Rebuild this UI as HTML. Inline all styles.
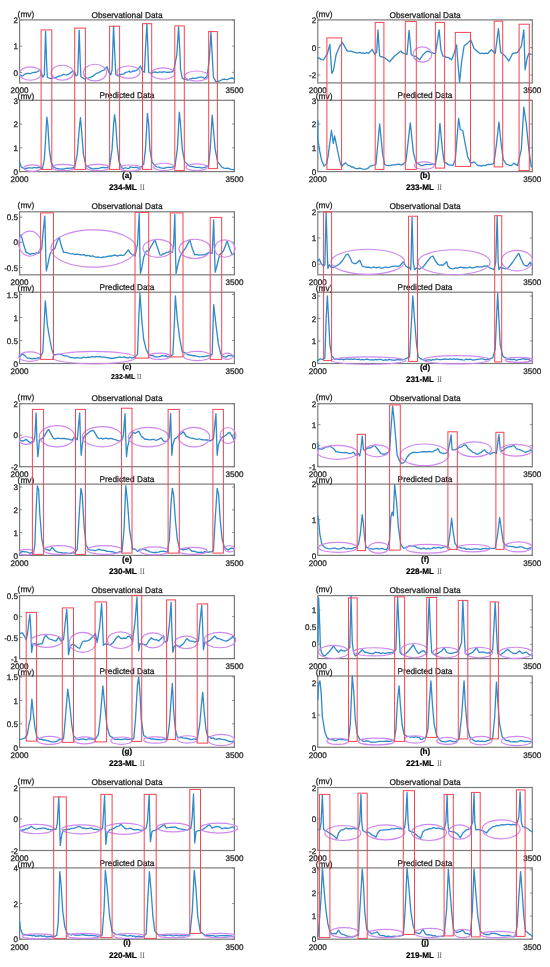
<!DOCTYPE html>
<html><head><meta charset="utf-8"><title>ECG figure</title>
<style>
html,body{margin:0;padding:0;background:#fff;}
body{width:550px;height:967px;overflow:hidden;}
svg{display:block;text-rendering:geometricPrecision;}
.t{font-family:'Liberation Sans', Arial, Helvetica, sans-serif;font-size:8.1px;fill:#1a1a1a;stroke:#1a1a1a;stroke-width:0.25px;}
.ti{font-size:8.3px;}
.b{font-family:'Liberation Sans', Arial, Helvetica, sans-serif;font-size:8.1px;font-weight:bold;fill:#000;stroke:#000;stroke-width:0.2px;}
.r{font-family:'Liberation Serif','Noto Serif CJK SC','Noto Sans CJK SC',serif;font-size:7.5px;font-weight:normal;fill:#4a4a4a;}
</style></head><body>
<svg width="550" height="967" viewBox="0 0 550 967">
<rect width="550" height="967" fill="#ffffff"/>
<rect x="19.6" y="19.9" width="214.8" height="63" fill="none" stroke="#7a7a7a" stroke-width="1.2"/>
<line x1="19.6" y1="19.9" x2="22.2" y2="19.9" stroke="#7a7a7a" stroke-width="0.9"/>
<line x1="234.4" y1="19.9" x2="231.9" y2="19.9" stroke="#7a7a7a" stroke-width="0.8"/>
<text x="18.1" y="23.1" text-anchor="end" class="t">2</text>
<line x1="19.6" y1="46.15" x2="22.2" y2="46.15" stroke="#7a7a7a" stroke-width="0.9"/>
<line x1="234.4" y1="46.15" x2="231.9" y2="46.15" stroke="#7a7a7a" stroke-width="0.8"/>
<text x="18.1" y="49.35" text-anchor="end" class="t">1</text>
<line x1="19.6" y1="72.4" x2="22.2" y2="72.4" stroke="#7a7a7a" stroke-width="0.9"/>
<line x1="234.4" y1="72.4" x2="231.9" y2="72.4" stroke="#7a7a7a" stroke-width="0.8"/>
<text x="18.1" y="75.6" text-anchor="end" class="t">0</text>
<text x="17.6" y="16.5" class="t" style="font-size:8.4px">(mv)</text>
<text x="127" y="17.5" text-anchor="middle" class="t ti">Observational Data</text>
<text x="19.6" y="93.3" text-anchor="middle" class="t">2000</text>
<text x="234.4" y="93.3" text-anchor="middle" class="t">3500</text>
<rect x="19.6" y="100.3" width="214.8" height="71.3" fill="none" stroke="#7a7a7a" stroke-width="1.2"/>
<line x1="19.6" y1="100.3" x2="22.2" y2="100.3" stroke="#7a7a7a" stroke-width="0.9"/>
<line x1="234.4" y1="100.3" x2="231.9" y2="100.3" stroke="#7a7a7a" stroke-width="0.8"/>
<text x="18.1" y="103.5" text-anchor="end" class="t">3</text>
<line x1="19.6" y1="124.07" x2="22.2" y2="124.07" stroke="#7a7a7a" stroke-width="0.9"/>
<line x1="234.4" y1="124.07" x2="231.9" y2="124.07" stroke="#7a7a7a" stroke-width="0.8"/>
<text x="18.1" y="127.27" text-anchor="end" class="t">2</text>
<line x1="19.6" y1="147.83" x2="22.2" y2="147.83" stroke="#7a7a7a" stroke-width="0.9"/>
<line x1="234.4" y1="147.83" x2="231.9" y2="147.83" stroke="#7a7a7a" stroke-width="0.8"/>
<text x="18.1" y="151.03" text-anchor="end" class="t">1</text>
<line x1="19.6" y1="171.6" x2="22.2" y2="171.6" stroke="#7a7a7a" stroke-width="0.9"/>
<line x1="234.4" y1="171.6" x2="231.9" y2="171.6" stroke="#7a7a7a" stroke-width="0.8"/>
<text x="18.1" y="174.8" text-anchor="end" class="t">0</text>
<text x="17.6" y="99.3" class="t" style="font-size:8.4px">(mv)</text>
<text x="127" y="97.9" text-anchor="middle" class="t ti">Predicted Data</text>
<text x="19.6" y="182" text-anchor="middle" class="t">2000</text>
<text x="234.4" y="182" text-anchor="middle" class="t">3500</text>
<polyline points="19.6,74.72 22.42,75.97 24.91,74.22 26.77,73.42 28.64,73.47 30.51,73.53 32.38,72.73 34.25,72.3 36.11,72.23 38.61,70.98 39.85,69.74 41.1,72.23 42.84,77.21 44.33,74.72 45.58,31.13 46.58,62.27 47.32,77.21 49.81,78.46 51.68,78.56 53.55,77.71 55.62,77.54 57.7,76.65 59.78,75.97 61.44,75.63 63.1,74.49 64.76,74.72 66.42,74.85 68.08,74.33 69.74,73.47 72.73,70.98 74.72,72.23 75.97,75.97 77.71,74.72 79.2,30.39 80.2,62.27 80.95,76.71 82.81,77.77 84.68,79.2 86.34,78.1 88,78.12 89.66,77.71 91.32,76.95 92.98,76.17 94.65,74.72 96.31,73.53 97.97,72.79 99.63,72.23 101.29,71.05 102.95,70.45 104.61,69.74 107.1,66.75 108.84,72.23 110.83,74.72 112.08,69.74 113.57,26.15 114.57,49.81 115.82,74.72 118.31,75.97 120.17,74.66 122.04,74.22 123.7,74.07 125.36,72.52 127.02,72.23 129.51,70.98 130,72.23 131.66,71.88 133.32,70.79 134.98,70.98 136.85,70.09 138.72,68.49 140.46,66 142.45,70.98 144.45,72.23 145.44,49.81 146.94,23.66 147.93,49.81 148.68,72.23 151.17,73.47 153.66,72.23 155.53,71.93 157.4,72.73 159.27,71.87 161.13,72.23 163,72.02 164.87,71.73 166.53,72.47 168.19,72.23 169.85,72.23 171.72,71.95 173.59,70.98 175.33,62.27 176.82,54.79 178.57,26.9 179.81,49.81 180.56,69.74 182.3,78.46 184.17,79.01 186.04,79.7 187.91,80.12 189.78,79.2 191.44,78.59 193.1,78.03 194.76,78.46 196.42,78.16 198.08,77.63 199.74,77.21 201.4,77.2 203.06,77.45 204.72,78.46 207.21,75.97 209.2,59.78 210.95,32.38 212.19,54.79 213.44,77.21 215.93,81.69 217.8,81.45 219.66,80.95 221.32,80.01 222.98,79.28 224.65,79.2 226.31,79.62 227.97,79.37 229.63,78.46 231.29,78.22 232.95,78.27 234.4,79.2" fill="none" stroke="#3089c9" stroke-width="1.3" stroke-linejoin="round" stroke-linecap="round"/>
<polyline points="19.6,161.89 21.17,166.87 23.04,167.92 24.91,168.87 26.77,168.24 28.64,167.92 30.51,167.93 32.38,168.12 34.25,167.47 36.11,167.84 37.98,167.51 39.85,167.37 42.34,168.87 44.33,159.4 45.58,139.48 46.82,117.06 47.82,124.53 49.32,149.44 51.06,161.89 53.55,166.87 55.62,168.06 57.7,168.75 59.78,168.87 61.55,169.18 63.33,169.02 65.11,168.76 66.89,168.04 68.67,168.44 70.45,168.21 72.23,168.12 74.72,166.87 77.21,154.42 79.2,129.51 80.45,117.56 81.69,132 83.44,154.42 85.93,165.63 88,166.7 90.08,167.85 92.15,168.87 94.02,168.79 95.89,168.47 97.76,168.57 99.63,168.12 101.49,167.62 103.36,167.43 105.23,167.97 107.1,167.37 109.59,166.38 112.08,149.44 113.57,124.53 114.57,114.57 115.82,124.53 117.06,144.46 119.05,161.89 122.04,168.12 123.91,168.29 125.78,167.75 127.65,168.49 129.51,168.12 130,166.87 131.66,167.07 133.32,167.66 134.98,167.37 136.64,167.35 138.3,168.22 139.96,168.12 143.7,164.38 145.44,149.44 147.43,113.33 148.68,124.53 149.93,149.44 151.92,161.89 154.91,165.63 156.77,166.82 158.64,167.09 160.51,167.87 162.38,168.12 164.25,168.37 166.11,167.58 167.98,167.3 169.85,167.37 171.51,167.43 173.17,166.89 174.83,166.87 177.32,149.44 179.32,112.08 180.56,124.53 182.3,149.44 184.79,161.89 189.78,166.38 191.64,166.4 193.51,166.78 195.38,167.23 197.25,167.37 199.12,167.46 200.98,167.86 202.85,167.92 204.72,167.37 206.59,166.69 208.46,165.63 210.2,149.44 212.19,115.07 213.44,129.51 215.18,149.44 217.67,161.89 222.15,167.37 224.02,168.08 225.89,168.42 227.76,168.11 229.63,168.87 231.29,169.46 232.95,169.64 234.4,169.36" fill="none" stroke="#3089c9" stroke-width="1.3" stroke-linejoin="round" stroke-linecap="round"/>
<ellipse cx="30.3" cy="73.5" rx="10.9" ry="6.7" fill="none" stroke="#cf88ee" stroke-width="1.15"/>
<ellipse cx="62.3" cy="72.7" rx="11.2" ry="7.5" fill="none" stroke="#cf88ee" stroke-width="1.15"/>
<ellipse cx="95" cy="72.6" rx="11.6" ry="8.3" fill="none" stroke="#cf88ee" stroke-width="1.15"/>
<ellipse cx="128.5" cy="72.2" rx="11.5" ry="6.2" fill="none" stroke="#cf88ee" stroke-width="1.15"/>
<ellipse cx="163" cy="73.5" rx="11.8" ry="5.7" fill="none" stroke="#cf88ee" stroke-width="1.15"/>
<ellipse cx="196.6" cy="76" rx="11.8" ry="5" fill="none" stroke="#cf88ee" stroke-width="1.15"/>
<ellipse cx="32.4" cy="168.1" rx="8.7" ry="3.2" fill="none" stroke="#cf88ee" stroke-width="1.15"/>
<ellipse cx="63.5" cy="167.5" rx="11.2" ry="3.1" fill="none" stroke="#cf88ee" stroke-width="1.15"/>
<ellipse cx="97.8" cy="167.5" rx="11.8" ry="3.1" fill="none" stroke="#cf88ee" stroke-width="1.15"/>
<ellipse cx="130.4" cy="168" rx="10.8" ry="3" fill="none" stroke="#cf88ee" stroke-width="1.15"/>
<ellipse cx="164" cy="166.9" rx="10.3" ry="3.7" fill="none" stroke="#cf88ee" stroke-width="1.15"/>
<ellipse cx="196.6" cy="167.2" rx="10.6" ry="3.4" fill="none" stroke="#cf88ee" stroke-width="1.15"/>
<rect x="41.1" y="29.9" width="10.7" height="139.5" fill="none" stroke="#f8444f" stroke-width="1"/>
<rect x="74.7" y="28.1" width="10.7" height="141.3" fill="none" stroke="#f8444f" stroke-width="1"/>
<rect x="109.6" y="26.2" width="10" height="143.2" fill="none" stroke="#f8444f" stroke-width="1"/>
<rect x="142.5" y="23.7" width="9.2" height="145.7" fill="none" stroke="#f8444f" stroke-width="1"/>
<rect x="174.8" y="25.9" width="9.5" height="144.7" fill="none" stroke="#f8444f" stroke-width="1"/>
<rect x="208.7" y="31.6" width="8.7" height="137" fill="none" stroke="#f8444f" stroke-width="1"/>
<text x="127" y="177.8" text-anchor="middle" class="b">(a)</text>
<text x="108.9" y="189.9" class="b">234-ML</text>
<text x="138.5" y="189.9" class="r">Ⅱ</text>
<rect x="317.8" y="19.9" width="214.5" height="63" fill="none" stroke="#7a7a7a" stroke-width="1.2"/>
<line x1="317.8" y1="19.9" x2="320.4" y2="19.9" stroke="#7a7a7a" stroke-width="0.9"/>
<line x1="532.3" y1="19.9" x2="529.8" y2="19.9" stroke="#7a7a7a" stroke-width="0.8"/>
<text x="316.3" y="23.1" text-anchor="end" class="t">2</text>
<line x1="317.8" y1="47.47" x2="320.4" y2="47.47" stroke="#7a7a7a" stroke-width="0.9"/>
<line x1="532.3" y1="47.47" x2="529.8" y2="47.47" stroke="#7a7a7a" stroke-width="0.8"/>
<text x="316.3" y="50.67" text-anchor="end" class="t">0</text>
<line x1="317.8" y1="75.04" x2="320.4" y2="75.04" stroke="#7a7a7a" stroke-width="0.9"/>
<line x1="532.3" y1="75.04" x2="529.8" y2="75.04" stroke="#7a7a7a" stroke-width="0.8"/>
<text x="316.3" y="78.24" text-anchor="end" class="t">-2</text>
<text x="315.8" y="16.5" class="t" style="font-size:8.4px">(mv)</text>
<text x="425.05" y="17.5" text-anchor="middle" class="t ti">Observational Data</text>
<text x="317.8" y="93.3" text-anchor="middle" class="t">2000</text>
<text x="532.3" y="93.3" text-anchor="middle" class="t">3500</text>
<rect x="317.8" y="100.3" width="214.5" height="71.3" fill="none" stroke="#7a7a7a" stroke-width="1.2"/>
<line x1="317.8" y1="100.3" x2="320.4" y2="100.3" stroke="#7a7a7a" stroke-width="0.9"/>
<line x1="532.3" y1="100.3" x2="529.8" y2="100.3" stroke="#7a7a7a" stroke-width="0.8"/>
<text x="316.3" y="103.5" text-anchor="end" class="t">3</text>
<line x1="317.8" y1="124.07" x2="320.4" y2="124.07" stroke="#7a7a7a" stroke-width="0.9"/>
<line x1="532.3" y1="124.07" x2="529.8" y2="124.07" stroke="#7a7a7a" stroke-width="0.8"/>
<text x="316.3" y="127.27" text-anchor="end" class="t">2</text>
<line x1="317.8" y1="147.83" x2="320.4" y2="147.83" stroke="#7a7a7a" stroke-width="0.9"/>
<line x1="532.3" y1="147.83" x2="529.8" y2="147.83" stroke="#7a7a7a" stroke-width="0.8"/>
<text x="316.3" y="151.03" text-anchor="end" class="t">1</text>
<line x1="317.8" y1="171.6" x2="320.4" y2="171.6" stroke="#7a7a7a" stroke-width="0.9"/>
<line x1="532.3" y1="171.6" x2="529.8" y2="171.6" stroke="#7a7a7a" stroke-width="0.8"/>
<text x="316.3" y="174.8" text-anchor="end" class="t">0</text>
<text x="315.8" y="99.3" class="t" style="font-size:8.4px">(mv)</text>
<text x="425.05" y="97.9" text-anchor="middle" class="t ti">Predicted Data</text>
<text x="317.8" y="182" text-anchor="middle" class="t">2000</text>
<text x="532.3" y="182" text-anchor="middle" class="t">3500</text>
<polyline points="317.8,57.78 319.47,58.25 321.55,59.58 323.62,59.78 327.36,53.55 329.85,44.33 331.84,73.47 333.59,69.74 336.08,54.79 339.81,46.08 342.3,42.34 347.29,51.06 349.15,51.16 351.02,51.06 352.89,51.96 354.76,52.3 356.42,52.83 358.08,52.97 359.74,52.32 361.4,53.13 363.06,52.92 364.72,53.55 366.38,52.48 368.04,53.39 369.7,52.3 372.19,49.32 374.68,54.3 376.67,52.3 377.92,29.89 379.66,56.04 381.32,56.91 382.98,57.01 384.65,57.78 389.63,61.77 394.61,56.04 400.83,51.06 402.45,52.69 404.07,53.55 407.06,54.3 409.05,30.39 411.3,54.79 412.91,55.82 414.53,56.04 416.19,56.6 417.85,58.37 419.51,59.78 420.47,58.53 422.96,54.79 424.62,53.28 426.28,51.67 427.94,51.06 429.81,52.02 431.68,52.3 433.55,53.44 435.42,53.55 439.15,29.89 440.9,49.81 442.89,56.04 444.55,56.43 446.21,57.33 447.87,57.29 449.74,58.59 451.61,59.78 454.1,53.55 456.59,44.83 457.83,62.27 459.58,82.19 461.57,62.27 464.06,46.08 465.68,44.7 467.3,43.59 470.78,39.85 474.02,48.57 476.1,50.33 478.17,52.33 480.25,53.55 482.12,53.23 483.98,53.57 485.85,53.02 487.72,53.55 491.46,49.81 495.19,53.55 498.43,28.64 500.67,52.3 505.15,56.04 508.89,61.02 512.63,53.55 514.29,53.19 515.95,52.99 517.61,52.3 521.34,46.08 523.83,29.89 525.08,69.74 527.07,58.53 528.82,53.55 531.31,54.3" fill="none" stroke="#3089c9" stroke-width="1.3" stroke-linejoin="round" stroke-linecap="round"/>
<polyline points="317.8,120.55 317.9,139.48 319.89,151.93 321.63,160.4 324.12,166.13 326.61,163.64 328.11,156.16 330.6,136.49 331.49,130.51 333.34,143.46 334.58,135.99 337.32,149.44 339.81,161.15 341.56,166.87 343.05,164.63 345.54,162.89 348.03,165.38 349.71,165.53 351.39,167 353.08,166.96 354.76,168.12 356.42,168.62 358.08,168.51 359.74,168.21 361.4,168.7 363.06,169.08 364.72,169.36 366.59,168.92 368.46,167.89 370.32,166 372.19,165.63 374.06,164.99 375.93,164.38 379.66,123.79 382.65,154.42 384.65,164.38 386.31,165.28 387.97,165.52 389.63,165.63 391.49,165.12 393.36,164.8 395.23,164.84 397.1,164.38 398.76,164.07 400.42,164.93 402.08,164.88 405.82,161.89 410.3,122.79 413.29,151.93 415.78,161.89 417.65,163.72 419.51,164.38 420.47,165.63 422.34,165.53 424.21,164.88 426.08,164.33 427.94,164.38 429.81,164.67 431.68,164.29 433.55,163.92 435.42,164.38 437.91,149.44 439.9,123.29 442.39,149.44 444.13,161.89 446,162.88 447.87,164.38 449.53,165.18 451.19,165.07 452.85,165.63 455.34,159.4 457.33,134.5 458.58,118.31 460.32,129.51 462.81,130.76 465.3,144.46 467.79,156.91 470.78,163.14 472.4,162.75 474.02,161.89 477.76,165.63 479.63,165.31 481.49,166.18 483.36,165.27 485.23,165.63 486.89,164.68 488.55,164.48 490.21,164.38 492.08,164.22 493.95,163.14 496.44,144.46 498.93,122.04 500.67,139.48 503.16,159.4 506.4,164.38 508.06,164.65 509.72,165.34 511.38,165.63 513.87,163.14 515.74,164.37 517.61,165.63 521.34,149.44 523.83,107.1 526.33,124.53 528.82,149.44 531.31,166.87" fill="none" stroke="#3089c9" stroke-width="1.3" stroke-linejoin="round" stroke-linecap="round"/>
<ellipse cx="422.4" cy="54.5" rx="9.3" ry="7.7" fill="none" stroke="#cf88ee" stroke-width="1.15"/>
<ellipse cx="424.2" cy="165.6" rx="10" ry="3.7" fill="none" stroke="#cf88ee" stroke-width="1.15"/>
<rect x="326.9" y="37.9" width="14.7" height="131.5" fill="none" stroke="#f8444f" stroke-width="1"/>
<rect x="375.2" y="22.4" width="8.7" height="147" fill="none" stroke="#f8444f" stroke-width="1"/>
<rect x="405.3" y="21.4" width="11" height="148" fill="none" stroke="#f8444f" stroke-width="1"/>
<rect x="435.4" y="22.4" width="9.2" height="145.7" fill="none" stroke="#f8444f" stroke-width="1"/>
<rect x="455.3" y="32.4" width="15.2" height="134" fill="none" stroke="#f8444f" stroke-width="1"/>
<rect x="494.2" y="21.2" width="8.5" height="145.7" fill="none" stroke="#f8444f" stroke-width="1"/>
<rect x="519.1" y="24.2" width="10.2" height="146.4" fill="none" stroke="#f8444f" stroke-width="1"/>
<text x="425.05" y="177.8" text-anchor="middle" class="b">(b)</text>
<text x="406.1" y="189.9" class="b">233-ML</text>
<text x="435.7" y="189.9" class="r">Ⅱ</text>
<rect x="19.6" y="211.8" width="214.8" height="63" fill="none" stroke="#7a7a7a" stroke-width="1.2"/>
<line x1="19.6" y1="217.13" x2="22.2" y2="217.13" stroke="#7a7a7a" stroke-width="0.9"/>
<line x1="234.4" y1="217.13" x2="231.9" y2="217.13" stroke="#7a7a7a" stroke-width="0.8"/>
<text x="18.1" y="220.33" text-anchor="end" class="t">0.5</text>
<line x1="19.6" y1="242.29" x2="22.2" y2="242.29" stroke="#7a7a7a" stroke-width="0.9"/>
<line x1="234.4" y1="242.29" x2="231.9" y2="242.29" stroke="#7a7a7a" stroke-width="0.8"/>
<text x="18.1" y="245.49" text-anchor="end" class="t">0</text>
<line x1="19.6" y1="267.45" x2="22.2" y2="267.45" stroke="#7a7a7a" stroke-width="0.9"/>
<line x1="234.4" y1="267.45" x2="231.9" y2="267.45" stroke="#7a7a7a" stroke-width="0.8"/>
<text x="18.1" y="270.65" text-anchor="end" class="t">-0.5</text>
<text x="17.6" y="208.4" class="t" style="font-size:8.4px">(mv)</text>
<text x="127" y="209.4" text-anchor="middle" class="t ti">Observational Data</text>
<text x="19.6" y="285.2" text-anchor="middle" class="t">2000</text>
<text x="234.4" y="285.2" text-anchor="middle" class="t">3500</text>
<rect x="19.6" y="292.2" width="214.8" height="71.3" fill="none" stroke="#7a7a7a" stroke-width="1.2"/>
<line x1="19.6" y1="294.5" x2="22.2" y2="294.5" stroke="#7a7a7a" stroke-width="0.9"/>
<line x1="234.4" y1="294.5" x2="231.9" y2="294.5" stroke="#7a7a7a" stroke-width="0.8"/>
<text x="18.1" y="297.7" text-anchor="end" class="t">1.5</text>
<line x1="19.6" y1="317.5" x2="22.2" y2="317.5" stroke="#7a7a7a" stroke-width="0.9"/>
<line x1="234.4" y1="317.5" x2="231.9" y2="317.5" stroke="#7a7a7a" stroke-width="0.8"/>
<text x="18.1" y="320.7" text-anchor="end" class="t">1</text>
<line x1="19.6" y1="340.5" x2="22.2" y2="340.5" stroke="#7a7a7a" stroke-width="0.9"/>
<line x1="234.4" y1="340.5" x2="231.9" y2="340.5" stroke="#7a7a7a" stroke-width="0.8"/>
<text x="18.1" y="343.7" text-anchor="end" class="t">0.5</text>
<line x1="19.6" y1="363.5" x2="22.2" y2="363.5" stroke="#7a7a7a" stroke-width="0.9"/>
<line x1="234.4" y1="363.5" x2="231.9" y2="363.5" stroke="#7a7a7a" stroke-width="0.8"/>
<text x="18.1" y="366.7" text-anchor="end" class="t">0</text>
<text x="17.6" y="291.2" class="t" style="font-size:8.4px">(mv)</text>
<text x="127" y="289.8" text-anchor="middle" class="t ti">Predicted Data</text>
<text x="19.6" y="373.9" text-anchor="middle" class="t">2000</text>
<text x="234.4" y="373.9" text-anchor="middle" class="t">3500</text>
<polyline points="19.6,236.1 21.17,234.85 23.66,244.81 26.15,252.29 28.02,253.15 29.89,254.28 31.55,253.61 33.21,253.33 34.87,253.53 36.53,252.76 38.19,253.06 39.85,252.29 41.84,248.55 42.84,234.85 44.83,216.17 45.83,257.27 46.33,270.97 47.82,264.74 49.81,254.78 52.3,249.79 54.79,248.55 57.29,241.08 59.28,237.34 61.02,244.81 63.51,252.29 65.59,252.35 67.66,252.95 69.74,253.53 71.52,253.97 73.3,253.94 75.08,254.68 76.85,254.23 78.63,254.31 80.41,254.76 82.19,254.78 83.94,254.63 85.68,255.84 87.42,255.35 89.17,255.62 90.91,256.28 92.65,255.78 94.4,256.74 96.14,257.26 97.88,256.79 99.63,257.27 101.41,257.71 103.18,256.95 104.96,257.12 106.74,256.51 108.52,256.24 110.3,255.88 112.08,256.02 113.86,255.15 115.64,255.25 117.42,256.17 119.2,255.36 120.97,255.08 122.75,255.51 124.53,254.78 128.27,249.79 130.76,253.53 132.87,254.92 134.98,256.02 137.47,244.81 139.22,213.68 139.96,257.27 140.46,273.46 141.96,267.23 143.7,257.27 146.19,251.04 148.68,251.04 151.17,246.06 154.91,239.83 157.4,247.3 159.89,254.78 161.55,255.03 163.21,253.75 164.87,253.53 166.53,252.3 168.19,252.46 169.85,251.04 172.34,252.29 173.59,244.81 174.83,214.43 175.58,257.27 176.08,273.46 177.82,264.74 179.81,257.27 182.3,252.29 186.04,247.3 189.78,239.83 192.27,248.55 194.76,254.78 196.63,254.3 198.49,255.18 200.36,254.91 202.23,254.78 204.1,254.83 205.97,254.15 207.83,253.13 209.7,252.29 212.19,253.53 213.69,219.91 214.68,257.27 215.18,272.21 217.17,264.74 219.66,254.78 223.4,251.04 227.14,241.08 229.63,248.55 232.12,254.78 234.4,253.53" fill="none" stroke="#3089c9" stroke-width="1.3" stroke-linejoin="round" stroke-linecap="round"/>
<polyline points="19.6,356.89 22.42,353.9 24.91,355.65 27.4,358.14 29.06,358.2 30.72,358.51 32.38,358.89 34.25,358.43 36.11,358.77 37.98,357.74 39.85,358.14 42.84,351.91 44.33,319.53 45.33,300.85 47.32,324.51 49.81,339.46 51.81,349.42 53.55,354.4 55.62,354.64 57.7,354.22 59.78,354.4 61.44,354.5 63.1,355.32 64.76,355.97 66.42,355.92 68.08,356.5 69.74,357.24 71.4,357.54 73.06,357.71 74.72,358.14 76.38,357.7 78.04,357.9 79.7,357.91 81.36,358.1 83.02,357.33 84.68,357.29 86.34,357.61 88,357.13 89.66,357.44 91.32,356.83 92.98,356.49 94.65,357.12 96.31,356.38 97.97,356.87 99.63,356.39 101.41,357.21 103.18,357.06 104.96,357.2 106.74,357.69 108.52,357.71 110.3,358.31 112.08,358.14 113.86,358.45 115.64,357.7 117.42,357.69 119.2,356.94 120.97,357.29 122.75,357.15 124.53,356.89 126.4,357.73 128.27,357.83 130.14,357.24 132,358.14 134.98,356.89 137.47,354.4 138.72,319.53 139.96,293.38 141.96,322.02 143.7,339.46 146.19,349.42 148.68,354.4 150.76,355.55 152.83,355.68 154.91,356.89 156.77,356.86 158.64,356.87 160.51,356.27 162.38,355.65 164.25,356.05 166.11,355.75 167.98,357.01 169.85,356.89 172.84,354.4 174.33,324.51 175.33,295.87 177.32,319.53 179.81,339.46 182.3,351.91 183.96,352.26 185.62,353.09 187.29,354.4 189.06,355.19 190.84,355.24 192.62,355.73 194.4,355.53 196.18,356.19 197.96,356.4 199.74,356.89 201.4,356.67 203.06,356.41 204.72,356.7 206.38,356 208.04,355.86 209.7,355.65 212.19,354.4 213.69,304.59 215.93,324.51 218.42,344.44 220.91,354.4 222.78,356.18 224.65,356.89 226.31,357.03 227.97,355.72 229.63,355.65 231.29,355.7 232.95,355.59 234.4,356.39" fill="none" stroke="#3089c9" stroke-width="1.3" stroke-linejoin="round" stroke-linecap="round"/>
<ellipse cx="29.9" cy="243.6" rx="11.2" ry="12.5" fill="none" stroke="#cf88ee" stroke-width="1.15"/>
<ellipse cx="93.5" cy="248.5" rx="42.5" ry="18.6" fill="none" stroke="#cf88ee" stroke-width="1.15"/>
<ellipse cx="157.9" cy="248.3" rx="14.9" ry="9" fill="none" stroke="#cf88ee" stroke-width="1.15"/>
<ellipse cx="194.8" cy="248.9" rx="15.7" ry="9.6" fill="none" stroke="#cf88ee" stroke-width="1.15"/>
<ellipse cx="224.9" cy="248.5" rx="10.2" ry="8.7" fill="none" stroke="#cf88ee" stroke-width="1.15"/>
<ellipse cx="29.9" cy="356.6" rx="11.2" ry="4.8" fill="none" stroke="#cf88ee" stroke-width="1.15"/>
<ellipse cx="94" cy="357.6" rx="41.7" ry="6.2" fill="none" stroke="#cf88ee" stroke-width="1.15"/>
<ellipse cx="159.3" cy="356.3" rx="10.6" ry="3.1" fill="none" stroke="#cf88ee" stroke-width="1.15"/>
<ellipse cx="197.2" cy="356" rx="13.7" ry="4.6" fill="none" stroke="#cf88ee" stroke-width="1.15"/>
<ellipse cx="227.4" cy="356.3" rx="5.2" ry="3.1" fill="none" stroke="#cf88ee" stroke-width="1.15"/>
<rect x="40.6" y="212.9" width="12.9" height="146.5" fill="none" stroke="#f8444f" stroke-width="1"/>
<rect x="135" y="212.4" width="13.7" height="145.7" fill="none" stroke="#f8444f" stroke-width="1"/>
<rect x="170.3" y="212.9" width="12.7" height="144" fill="none" stroke="#f8444f" stroke-width="1"/>
<rect x="210.2" y="217.4" width="11.5" height="142" fill="none" stroke="#f8444f" stroke-width="1"/>
<text x="127" y="369.1" text-anchor="middle" class="b" style="font-size:7.2px">(c)</text>
<text x="111.1" y="379.2" class="b" style="font-size:7px">232-ML</text>
<text x="135.8" y="379.2" class="r" style="font-size:6.8px">Ⅱ</text>
<rect x="317.8" y="211.8" width="214.5" height="63" fill="none" stroke="#7a7a7a" stroke-width="1.2"/>
<line x1="317.8" y1="211.8" x2="320.4" y2="211.8" stroke="#7a7a7a" stroke-width="0.9"/>
<line x1="532.3" y1="211.8" x2="529.8" y2="211.8" stroke="#7a7a7a" stroke-width="0.8"/>
<text x="316.3" y="215" text-anchor="end" class="t">2</text>
<line x1="317.8" y1="238" x2="320.4" y2="238" stroke="#7a7a7a" stroke-width="0.9"/>
<line x1="532.3" y1="238" x2="529.8" y2="238" stroke="#7a7a7a" stroke-width="0.8"/>
<text x="316.3" y="241.2" text-anchor="end" class="t">1</text>
<line x1="317.8" y1="264.19" x2="320.4" y2="264.19" stroke="#7a7a7a" stroke-width="0.9"/>
<line x1="532.3" y1="264.19" x2="529.8" y2="264.19" stroke="#7a7a7a" stroke-width="0.8"/>
<text x="316.3" y="267.39" text-anchor="end" class="t">0</text>
<text x="315.8" y="208.4" class="t" style="font-size:8.4px">(mv)</text>
<text x="425.05" y="209.4" text-anchor="middle" class="t ti">Observational Data</text>
<text x="317.8" y="285.2" text-anchor="middle" class="t">2000</text>
<text x="532.3" y="285.2" text-anchor="middle" class="t">3500</text>
<rect x="317.8" y="292.2" width="214.5" height="71.3" fill="none" stroke="#7a7a7a" stroke-width="1.2"/>
<line x1="317.8" y1="296.02" x2="320.4" y2="296.02" stroke="#7a7a7a" stroke-width="0.9"/>
<line x1="532.3" y1="296.02" x2="529.8" y2="296.02" stroke="#7a7a7a" stroke-width="0.8"/>
<text x="316.3" y="299.22" text-anchor="end" class="t">3</text>
<line x1="317.8" y1="318.52" x2="320.4" y2="318.52" stroke="#7a7a7a" stroke-width="0.9"/>
<line x1="532.3" y1="318.52" x2="529.8" y2="318.52" stroke="#7a7a7a" stroke-width="0.8"/>
<text x="316.3" y="321.72" text-anchor="end" class="t">2</text>
<line x1="317.8" y1="341.01" x2="320.4" y2="341.01" stroke="#7a7a7a" stroke-width="0.9"/>
<line x1="532.3" y1="341.01" x2="529.8" y2="341.01" stroke="#7a7a7a" stroke-width="0.8"/>
<text x="316.3" y="344.21" text-anchor="end" class="t">1</text>
<line x1="317.8" y1="363.5" x2="320.4" y2="363.5" stroke="#7a7a7a" stroke-width="0.9"/>
<line x1="532.3" y1="363.5" x2="529.8" y2="363.5" stroke="#7a7a7a" stroke-width="0.8"/>
<text x="316.3" y="366.7" text-anchor="end" class="t">0</text>
<text x="315.8" y="291.2" class="t" style="font-size:8.4px">(mv)</text>
<text x="425.05" y="289.8" text-anchor="middle" class="t ti">Predicted Data</text>
<text x="317.8" y="373.9" text-anchor="middle" class="t">2000</text>
<text x="532.3" y="373.9" text-anchor="middle" class="t">3500</text>
<polyline points="317.8,261 319.39,259.26 321.13,263.49 323.62,265.98 324.87,264.74 326.11,211.94 327.36,254.78 327.86,268.47 329.35,264.74 331.1,267.23 333.59,267.73 335.25,266.23 336.91,265.67 338.57,264.74 342.3,261 346.04,254.78 348.03,254.03 349.78,257.27 352.27,262.75 354.13,263.5 356,263.49 359.74,260.26 362.23,265.98 363.89,266.69 365.55,267.14 367.21,267.23 368.87,267.22 370.53,267.82 372.19,267.52 373.85,266.97 375.51,267.58 377.17,267.73 378.95,267.02 380.73,268.19 382.51,268.14 384.29,267.21 386.07,267.1 387.85,267.68 389.63,267.23 391.29,266.61 392.95,266.36 394.61,266.17 396.27,266.18 397.93,266.37 399.59,265.98 403.33,261.75 405.82,265.98 407.43,267.26 409.05,267.23 410.8,269.72 412.04,217.42 413.29,262.25 414.53,269.72 416.53,267.73 419.51,269.22 421.24,267.82 422.96,267.23 426.7,262.25 430.43,257.27 432.93,256.02 435.42,261 437.91,264.24 439.57,265.21 441.23,264.98 442.89,265.24 446.62,261.75 447.87,265.98 450.36,268.47 452.14,268.93 453.92,268.71 455.7,267.68 457.48,268.26 459.26,267.41 461.03,267.14 462.81,267.73 464.59,267.51 466.37,267.97 468.15,267.61 469.93,267.01 471.71,267.85 473.49,267.88 475.27,267.23 477.05,266.68 478.82,266.8 480.6,266.89 482.38,267.08 484.16,265.82 485.94,266.24 487.72,265.98 489.59,267.89 491.46,268.47 493.95,269.72 495.69,262.25 497.18,216.17 498.18,262.25 498.93,269.72 500.17,267.23 502.04,268 503.91,268.47 505.78,268.78 507.65,268.47 512.63,262.25 517.61,254.78 518.85,253.53 521.34,259.76 523.83,264.74 525.7,265.75 527.57,265.98 530.06,262.25 532.05,264.74" fill="none" stroke="#3089c9" stroke-width="1.3" stroke-linejoin="round" stroke-linecap="round"/>
<polyline points="317.8,360.63 319.89,358.89 322.38,359.38 324.87,358.14 326.11,319.53 327.36,295.87 328.61,319.53 329.85,344.44 331.59,355.65 334.83,359.38 336.58,358.84 338.32,359.03 340.06,359.63 341.81,358.95 343.55,359.82 345.29,359.1 347.04,358.8 348.78,359.31 350.52,358.98 352.27,359.38 353.93,358.84 355.59,359.18 357.25,359.43 358.91,359.15 360.57,359.97 362.23,359.34 363.89,359.86 365.55,359.47 367.21,359.2 368.87,359.64 370.53,359.97 372.19,359.77 373.85,359.99 375.51,359.39 377.17,359.88 378.83,359.45 380.49,359.44 382.15,359.87 383.81,360.31 385.48,359.74 387.14,360.27 388.8,359.42 390.46,359.55 392.12,360.09 393.78,360.22 395.44,360.23 397.1,359.46 398.76,359.93 400.42,359.57 402.08,359.88 403.74,359.6 405.4,358.82 407.06,358.14 409.55,356.89 411.3,324.51 412.79,295.87 414.53,319.53 416.53,344.44 418.27,356.89 420.14,358.36 422,359.38 423.98,359.89 425.96,360.3 427.94,359.88 429.6,359.76 431.26,360.31 432.93,359.38 434.59,360.01 436.25,358.99 437.91,359.38 439.69,359.57 441.46,359.72 443.24,359.24 445.02,358.93 446.8,359.42 448.58,359.33 450.36,358.89 452.14,359.29 453.92,358.98 455.7,359.33 457.48,358.86 459.26,359.63 461.03,359.51 462.81,359.88 464.47,360.04 466.13,359.19 467.79,359.65 469.45,359.2 471.12,359.42 472.78,360.12 474.44,359.81 476.1,359.61 477.76,359.38 479.42,359.22 481.08,358.9 482.74,358.82 484.4,359.44 486.06,359.97 487.72,359.38 489.38,359.25 491.04,358.21 492.7,358.14 495.19,349.42 496.69,314.55 497.68,293.38 498.93,319.53 500.17,344.44 502.66,355.65 504.32,357.46 505.98,357.81 507.65,359.38 509.31,358.92 510.97,359.56 512.63,359.57 514.29,359.2 515.95,360.3 517.61,359.88 519.27,359.47 520.93,359.42 522.59,358.83 524.25,358.63 525.91,359.59 527.57,358.89 529.81,360.32 532.05,360.63" fill="none" stroke="#3089c9" stroke-width="1.3" stroke-linejoin="round" stroke-linecap="round"/>
<ellipse cx="367.8" cy="261.8" rx="36.7" ry="12.5" fill="none" stroke="#cf88ee" stroke-width="1.15"/>
<ellipse cx="454.1" cy="262.2" rx="36.1" ry="12.5" fill="none" stroke="#cf88ee" stroke-width="1.15"/>
<ellipse cx="517" cy="260.6" rx="15.6" ry="10.3" fill="none" stroke="#cf88ee" stroke-width="1.15"/>
<ellipse cx="368.4" cy="360.6" rx="37.3" ry="3.8" fill="none" stroke="#cf88ee" stroke-width="1.15"/>
<ellipse cx="456.6" cy="359.8" rx="33.6" ry="4.1" fill="none" stroke="#cf88ee" stroke-width="1.15"/>
<ellipse cx="518.9" cy="359.9" rx="13.7" ry="2.5" fill="none" stroke="#cf88ee" stroke-width="1.15"/>
<rect x="323.6" y="211.9" width="8" height="148.7" fill="none" stroke="#f8444f" stroke-width="1"/>
<rect x="408.6" y="216.2" width="8.9" height="145.2" fill="none" stroke="#f8444f" stroke-width="1"/>
<rect x="494.7" y="215.7" width="7" height="146.2" fill="none" stroke="#f8444f" stroke-width="1"/>
<text x="425.05" y="369.7" text-anchor="middle" class="b">(d)</text>
<text x="406.1" y="381.8" class="b">231-ML</text>
<text x="435.7" y="381.8" class="r">Ⅱ</text>
<rect x="19.6" y="403.7" width="214.8" height="63" fill="none" stroke="#7a7a7a" stroke-width="1.2"/>
<line x1="19.6" y1="403.7" x2="22.2" y2="403.7" stroke="#7a7a7a" stroke-width="0.9"/>
<line x1="234.4" y1="403.7" x2="231.9" y2="403.7" stroke="#7a7a7a" stroke-width="0.8"/>
<text x="18.1" y="406.9" text-anchor="end" class="t">2</text>
<line x1="19.6" y1="435.2" x2="22.2" y2="435.2" stroke="#7a7a7a" stroke-width="0.9"/>
<line x1="234.4" y1="435.2" x2="231.9" y2="435.2" stroke="#7a7a7a" stroke-width="0.8"/>
<text x="18.1" y="438.4" text-anchor="end" class="t">0</text>
<line x1="19.6" y1="466.7" x2="22.2" y2="466.7" stroke="#7a7a7a" stroke-width="0.9"/>
<line x1="234.4" y1="466.7" x2="231.9" y2="466.7" stroke="#7a7a7a" stroke-width="0.8"/>
<text x="18.1" y="469.9" text-anchor="end" class="t">-2</text>
<text x="17.6" y="400.3" class="t" style="font-size:8.4px">(mv)</text>
<text x="127" y="401.3" text-anchor="middle" class="t ti">Observational Data</text>
<text x="19.6" y="477.1" text-anchor="middle" class="t">2000</text>
<text x="234.4" y="477.1" text-anchor="middle" class="t">3500</text>
<rect x="19.6" y="484.1" width="214.8" height="71.3" fill="none" stroke="#7a7a7a" stroke-width="1.2"/>
<line x1="19.6" y1="487.06" x2="22.2" y2="487.06" stroke="#7a7a7a" stroke-width="0.9"/>
<line x1="234.4" y1="487.06" x2="231.9" y2="487.06" stroke="#7a7a7a" stroke-width="0.8"/>
<text x="18.1" y="490.26" text-anchor="end" class="t">3</text>
<line x1="19.6" y1="509.84" x2="22.2" y2="509.84" stroke="#7a7a7a" stroke-width="0.9"/>
<line x1="234.4" y1="509.84" x2="231.9" y2="509.84" stroke="#7a7a7a" stroke-width="0.8"/>
<text x="18.1" y="513.04" text-anchor="end" class="t">2</text>
<line x1="19.6" y1="532.62" x2="22.2" y2="532.62" stroke="#7a7a7a" stroke-width="0.9"/>
<line x1="234.4" y1="532.62" x2="231.9" y2="532.62" stroke="#7a7a7a" stroke-width="0.8"/>
<text x="18.1" y="535.82" text-anchor="end" class="t">1</text>
<line x1="19.6" y1="555.4" x2="22.2" y2="555.4" stroke="#7a7a7a" stroke-width="0.9"/>
<line x1="234.4" y1="555.4" x2="231.9" y2="555.4" stroke="#7a7a7a" stroke-width="0.8"/>
<text x="18.1" y="558.6" text-anchor="end" class="t">0</text>
<text x="17.6" y="483.1" class="t" style="font-size:8.4px">(mv)</text>
<text x="127" y="481.7" text-anchor="middle" class="t ti">Predicted Data</text>
<text x="19.6" y="565.8" text-anchor="middle" class="t">2000</text>
<text x="234.4" y="565.8" text-anchor="middle" class="t">3500</text>
<polyline points="19.6,439.81 22.42,441.06 24.28,440.3 26.15,439.32 29.89,442.8 31.76,441.88 33.62,441.81 34.87,436.08 36.11,412.91 36.86,439.81 37.86,456.75 38.61,449.78 39.35,439.81 41.59,438.97 43.84,436.82 47.57,430.35 48.82,429.6 50.31,432.59 53.3,438.32 55.21,438.91 57.12,438.27 59.03,438.32 60.9,438.73 62.76,438.29 64.63,438.49 66.5,439.07 68.41,439.02 70.32,439.83 72.23,439.81 74.47,436.82 77.21,439.81 79.7,412.91 80.45,439.81 81.2,455.26 82.44,443.55 83.94,436.82 88.17,433.09 90.29,431.32 92.4,430.35 93.9,431.1 97.63,437.57 99.29,438.73 100.95,437.97 102.62,439.07 104.48,438.45 106.35,438.12 108.22,438.88 110.09,438.32 111.98,438.68 113.87,439.38 115.77,439.72 117.66,440.7 119.55,441.06 122.04,439.81 123.29,436.08 125.03,413.66 125.78,439.81 126.53,456.75 127.52,447.29 129.51,438.57 133.25,432.34 134.98,433.59 136.85,432.21 138.72,431.1 141.21,436.08 144.94,439.32 146.6,439.07 148.26,439.55 149.93,439.81 151.79,439.54 153.66,439.27 155.53,440.27 157.4,439.81 159.27,439.07 161.13,437.82 163.62,441.06 165.49,441.29 167.36,441.06 169.35,437.32 170.6,413.66 171.34,439.81 171.84,455.26 172.84,444.79 174.83,438.57 176.49,437.86 178.15,435.93 179.81,434.83 183.55,431.84 186.04,436.08 187.91,436.78 189.78,437.82 191.64,438.09 193.51,438.43 195.38,439.18 197.25,439.32 199.12,438.75 200.98,439.51 202.85,439.74 204.72,439.81 206.38,440.01 208.04,439.97 209.7,441.06 211.57,440.1 213.44,438.57 215.93,413.66 216.67,439.81 217.17,455.26 218.42,444.79 220.91,438.57 222.78,436.64 224.65,436.08 226.31,434.92 227.97,433.1 229.63,432.34 232.12,436.08 234.11,439.81" fill="none" stroke="#3089c9" stroke-width="1.3" stroke-linejoin="round" stroke-linecap="round"/>
<polyline points="19.6,553.14 22.42,551.39 24.91,551.89 26.57,551.79 28.23,552.51 29.89,553.14 31.76,552.54 33.62,553.14 34.87,544.42 36.11,509.55 37.36,485.89 38.61,489.63 39.85,514.53 41.84,539.44 43.59,548.16 46.08,549.4 47.95,549.76 49.81,550.65 52.3,547.41 54.79,550.65 56.45,551.53 58.12,552.04 59.78,552.39 61.64,552.54 63.51,553.07 65.38,552.89 67.25,553.14 69.12,553.58 70.98,553.27 72.85,552.71 74.72,553.14 77.21,549.4 79.2,514.53 80.95,488.38 82.19,494.61 84.18,526.99 85.93,544.42 88.42,549.4 90.49,549.9 92.57,550.2 94.65,550.65 96.31,550.28 97.97,549.48 99.63,549.4 101.49,550.13 103.36,550.03 105.23,550.66 107.1,551.39 108.97,551.33 110.83,551.61 112.7,551.76 114.57,552.39 116.44,552.57 118.31,552.34 120.17,551.45 122.04,551.89 124.03,529.48 125.78,485.89 127.52,502.08 129.51,529.48 132,544.42 132.49,549.4 134.98,548.9 137.47,551.39 139.96,549.4 141.62,549.49 143.28,548.9 144.94,549.4 146.6,550.4 148.26,550.95 149.93,551.89 151.59,552.11 153.25,552.54 154.91,552.39 156.77,552.48 158.64,552.11 160.51,551.4 162.38,551.39 164.04,551.07 165.7,551.83 167.36,551.89 169.35,539.44 171.1,502.08 172.34,488.38 173.59,494.61 175.33,519.51 177.32,539.44 179.81,549.4 181.47,549.44 183.13,549.87 184.79,549.4 186.66,549.24 188.53,548.16 192.27,551.39 194.13,551.27 196,551.79 197.87,552.39 199.74,552.39 201.4,552.21 203.06,552.78 204.72,551.56 206.38,551.96 208.04,552.39 209.7,551.89 211.57,551.81 213.44,550.65 215.18,519.51 217.17,488.38 218.67,494.61 220.16,519.51 222.15,539.44 224.65,548.16 226.51,549.04 228.38,549.9 230.87,548.16 232.49,548.23 234.11,548.9" fill="none" stroke="#3089c9" stroke-width="1.3" stroke-linejoin="round" stroke-linecap="round"/>
<ellipse cx="26.5" cy="440.5" rx="7.1" ry="3.8" fill="none" stroke="#cf88ee" stroke-width="1.15"/>
<ellipse cx="57" cy="436.2" rx="17.6" ry="10.6" fill="none" stroke="#cf88ee" stroke-width="1.15"/>
<ellipse cx="102.1" cy="436.7" rx="19.9" ry="10.1" fill="none" stroke="#cf88ee" stroke-width="1.15"/>
<ellipse cx="148.5" cy="437.1" rx="20.2" ry="9.7" fill="none" stroke="#cf88ee" stroke-width="1.15"/>
<ellipse cx="194.1" cy="437.1" rx="15.6" ry="9.7" fill="none" stroke="#cf88ee" stroke-width="1.15"/>
<ellipse cx="228" cy="435.5" rx="7.9" ry="8" fill="none" stroke="#cf88ee" stroke-width="1.15"/>
<ellipse cx="26.5" cy="552.1" rx="7.1" ry="2.8" fill="none" stroke="#cf88ee" stroke-width="1.15"/>
<ellipse cx="59.1" cy="550" rx="15.5" ry="4.4" fill="none" stroke="#cf88ee" stroke-width="1.15"/>
<ellipse cx="104.6" cy="550" rx="17.4" ry="4.4" fill="none" stroke="#cf88ee" stroke-width="1.15"/>
<ellipse cx="154.3" cy="550.9" rx="14.3" ry="4" fill="none" stroke="#cf88ee" stroke-width="1.15"/>
<ellipse cx="192.9" cy="550.9" rx="14.3" ry="3.5" fill="none" stroke="#cf88ee" stroke-width="1.15"/>
<ellipse cx="229.6" cy="548.8" rx="5" ry="3.1" fill="none" stroke="#cf88ee" stroke-width="1.15"/>
<rect x="32.4" y="409.4" width="11.2" height="145" fill="none" stroke="#f8444f" stroke-width="1"/>
<rect x="75.5" y="409.4" width="9.9" height="145" fill="none" stroke="#f8444f" stroke-width="1"/>
<rect x="121.5" y="408.2" width="10.5" height="144.9" fill="none" stroke="#f8444f" stroke-width="1"/>
<rect x="168.1" y="409.4" width="11.2" height="143.7" fill="none" stroke="#f8444f" stroke-width="1"/>
<rect x="212.9" y="409.4" width="10.5" height="143.7" fill="none" stroke="#f8444f" stroke-width="1"/>
<text x="127" y="561.6" text-anchor="middle" class="b">(e)</text>
<text x="108.9" y="573.7" class="b">230-ML</text>
<text x="138.5" y="573.7" class="r">Ⅱ</text>
<rect x="317.8" y="403.7" width="214.5" height="63" fill="none" stroke="#7a7a7a" stroke-width="1.2"/>
<line x1="317.8" y1="403.7" x2="320.4" y2="403.7" stroke="#7a7a7a" stroke-width="0.9"/>
<line x1="532.3" y1="403.7" x2="529.8" y2="403.7" stroke="#7a7a7a" stroke-width="0.8"/>
<text x="316.3" y="406.9" text-anchor="end" class="t">2</text>
<line x1="317.8" y1="424.7" x2="320.4" y2="424.7" stroke="#7a7a7a" stroke-width="0.9"/>
<line x1="532.3" y1="424.7" x2="529.8" y2="424.7" stroke="#7a7a7a" stroke-width="0.8"/>
<text x="316.3" y="427.9" text-anchor="end" class="t">1</text>
<line x1="317.8" y1="445.7" x2="320.4" y2="445.7" stroke="#7a7a7a" stroke-width="0.9"/>
<line x1="532.3" y1="445.7" x2="529.8" y2="445.7" stroke="#7a7a7a" stroke-width="0.8"/>
<text x="316.3" y="448.9" text-anchor="end" class="t">0</text>
<line x1="317.8" y1="466.7" x2="320.4" y2="466.7" stroke="#7a7a7a" stroke-width="0.9"/>
<line x1="532.3" y1="466.7" x2="529.8" y2="466.7" stroke="#7a7a7a" stroke-width="0.8"/>
<text x="316.3" y="469.9" text-anchor="end" class="t">-1</text>
<text x="315.8" y="400.3" class="t" style="font-size:8.4px">(mv)</text>
<text x="425.05" y="401.3" text-anchor="middle" class="t ti">Observational Data</text>
<text x="317.8" y="477.1" text-anchor="middle" class="t">2000</text>
<text x="532.3" y="477.1" text-anchor="middle" class="t">3500</text>
<rect x="317.8" y="484.1" width="214.5" height="71.3" fill="none" stroke="#7a7a7a" stroke-width="1.2"/>
<line x1="317.8" y1="484.1" x2="320.4" y2="484.1" stroke="#7a7a7a" stroke-width="0.9"/>
<line x1="532.3" y1="484.1" x2="529.8" y2="484.1" stroke="#7a7a7a" stroke-width="0.8"/>
<text x="316.3" y="487.3" text-anchor="end" class="t">2</text>
<line x1="317.8" y1="519.75" x2="320.4" y2="519.75" stroke="#7a7a7a" stroke-width="0.9"/>
<line x1="532.3" y1="519.75" x2="529.8" y2="519.75" stroke="#7a7a7a" stroke-width="0.8"/>
<text x="316.3" y="522.95" text-anchor="end" class="t">1</text>
<line x1="317.8" y1="555.4" x2="320.4" y2="555.4" stroke="#7a7a7a" stroke-width="0.9"/>
<line x1="532.3" y1="555.4" x2="529.8" y2="555.4" stroke="#7a7a7a" stroke-width="0.8"/>
<text x="316.3" y="558.6" text-anchor="end" class="t">0</text>
<text x="315.8" y="483.1" class="t" style="font-size:8.4px">(mv)</text>
<text x="425.05" y="481.7" text-anchor="middle" class="t ti">Predicted Data</text>
<text x="317.8" y="565.8" text-anchor="middle" class="t">2000</text>
<text x="532.3" y="565.8" text-anchor="middle" class="t">3500</text>
<polyline points="317.8,442.3 317.9,448.53 319.51,448.41 321.13,449.28 323,448.69 324.87,447.78 326.53,446.74 328.19,446.92 329.85,446.04 331.72,447.44 333.59,448.53 336.08,451.77 337.95,451.86 339.81,452.27 341.47,452.6 343.13,452.69 344.79,452.76 346.45,452.37 348.12,453.3 349.78,453.51 351.64,453.06 353.51,452.27 356,455.26 358.49,453.51 359.74,456 360.98,448.53 362.23,436.08 363.47,449.78 365.22,449.78 367.21,448.53 368.87,447.98 370.53,447.9 372.19,446.79 374.68,445.29 377.17,448.53 380.91,453.51 382.78,454.21 384.65,454.26 386.51,453.09 388.38,452.27 389.63,451.02 390.87,429.85 392.62,406.19 394.11,419.89 395.85,439.81 397.1,454.76 399.59,460.98 402.08,463.47 404.57,462.23 407.06,457.25 409.55,454.26 411.21,453.21 412.87,452.41 414.53,452.27 416.4,452.58 418.27,452.28 420.14,452.05 422,451.77 423.98,451.69 425.96,451.77 427.94,451.77 429.6,451.38 431.26,451.81 432.93,451.77 434.79,450.28 436.66,449.78 437.91,448.53 439.9,452.27 442.02,453.06 444.13,453.51 446,453.07 447.87,452.27 449.86,442.3 451.11,434.83 452.1,449.78 454.1,449.78 455.96,449.39 457.83,448.53 459.7,447.3 461.57,446.79 463.68,445.22 465.8,444.79 468.29,448.53 472.78,452.27 474.44,452.7 476.1,453.86 477.76,454.26 479.42,453.19 481.08,452.45 482.74,451.02 484.73,449.78 486.47,452.27 488.34,453.17 490.21,454.26 492.08,453.12 493.95,452.27 496.44,453.51 497.68,443.55 498.93,434.33 500.17,448.53 501.42,451.02 503.29,450.35 505.15,448.53 506.81,447.48 508.48,446.96 510.14,446.79 512,446.16 513.87,445.29 516.36,448.53 518.23,449.34 520.1,449.78 521.76,450.51 523.42,451.52 525.08,452.27 526.95,451.56 528.82,451.02 530.56,449.78 532.05,451.77" fill="none" stroke="#3089c9" stroke-width="1.3" stroke-linejoin="round" stroke-linecap="round"/>
<polyline points="317.8,515.78 318.64,520.76 319.89,534.46 321.88,544.42 324.87,547.41 326.53,548.22 328.19,548.58 329.85,548.9 331.51,548.55 333.17,548.04 334.83,548.16 336.49,548.62 338.15,549.22 339.81,548.9 341.68,548.07 343.55,547.41 345.42,548.58 347.29,548.9 348.95,548.26 350.61,548.77 352.27,548.66 354.13,547.67 356,547.41 358.49,544.42 360.24,534.46 362.23,514.53 363.47,524.5 364.72,539.44 365.97,546.91 367.83,547.9 369.7,548.9 371.57,548.91 373.44,549.08 375.31,548.56 377.17,548.41 378.83,549.01 380.49,548.53 382.15,548.46 383.81,549.03 385.48,549.49 387.14,549.4 389.63,539.44 390.87,517.02 392.12,512.04 393.36,515.78 394.61,484.65 396.6,502.08 398.34,526.99 400.83,544.42 403.33,548.16 405.19,547.78 407.06,546.91 408.72,545.94 410.38,545.78 412.04,545.67 413.91,545.99 415.78,546.88 417.65,547.97 419.51,548.16 420.47,548.9 422.34,548.5 424.21,548.11 426.08,549.01 427.94,548.41 429.81,548.79 431.68,548.61 433.55,547.67 435.42,548.16 437.28,547.68 439.15,547.4 441.02,548.09 442.89,547.41 444.55,546.96 446.21,546.96 447.87,547.41 449.86,534.46 451.61,518.27 452.85,529.48 454.84,543.18 457.33,546.91 459.16,546.99 460.99,548.09 462.81,548.16 464.68,548.11 466.55,549.36 468.42,548.86 470.29,549.4 472.15,549.46 474.02,548.78 475.89,548.78 477.76,548.9 479.42,549.34 481.08,549.5 482.74,548.59 484.4,548.72 486.06,548.37 487.72,548.9 489.59,548.35 491.46,548.39 493.32,548.37 495.19,548.16 497.68,534.46 499.67,517.52 501.42,529.48 503.16,541.93 505.65,545.67 507.89,546.13 510.14,546.41 511.8,546.56 513.46,546.67 515.12,547.41 516.99,547.35 518.85,546.98 520.72,546.85 522.59,546.91 524.25,548.14 525.91,548.34 527.57,548.9 529.81,547.95 532.05,548.16" fill="none" stroke="#3089c9" stroke-width="1.3" stroke-linejoin="round" stroke-linecap="round"/>
<ellipse cx="337.3" cy="452.3" rx="19.9" ry="7" fill="none" stroke="#cf88ee" stroke-width="1.15"/>
<ellipse cx="376.9" cy="450.8" rx="12.2" ry="6" fill="none" stroke="#cf88ee" stroke-width="1.15"/>
<ellipse cx="424.6" cy="454.8" rx="24.3" ry="10.8" fill="none" stroke="#cf88ee" stroke-width="1.15"/>
<ellipse cx="474.4" cy="449.3" rx="17.1" ry="7.5" fill="none" stroke="#cf88ee" stroke-width="1.15"/>
<ellipse cx="516.1" cy="450.2" rx="16" ry="5.9" fill="none" stroke="#cf88ee" stroke-width="1.15"/>
<ellipse cx="337.9" cy="547.4" rx="19.3" ry="5" fill="none" stroke="#cf88ee" stroke-width="1.15"/>
<ellipse cx="378.8" cy="547.8" rx="10.3" ry="5.4" fill="none" stroke="#cf88ee" stroke-width="1.15"/>
<ellipse cx="427.9" cy="548.8" rx="22" ry="4.4" fill="none" stroke="#cf88ee" stroke-width="1.15"/>
<ellipse cx="473.4" cy="548.2" rx="16.8" ry="3.7" fill="none" stroke="#cf88ee" stroke-width="1.15"/>
<ellipse cx="518.3" cy="546.9" rx="13.7" ry="5" fill="none" stroke="#cf88ee" stroke-width="1.15"/>
<rect x="357.2" y="434.3" width="8.3" height="116.3" fill="none" stroke="#f8444f" stroke-width="1"/>
<rect x="389.6" y="404.9" width="10.7" height="145.2" fill="none" stroke="#f8444f" stroke-width="1"/>
<rect x="447.9" y="431.8" width="9.4" height="117.6" fill="none" stroke="#f8444f" stroke-width="1"/>
<rect x="495.9" y="432.3" width="8" height="117.1" fill="none" stroke="#f8444f" stroke-width="1"/>
<text x="425.05" y="561.6" text-anchor="middle" class="b">(f)</text>
<text x="406.1" y="573.7" class="b">228-ML</text>
<text x="435.7" y="573.7" class="r">Ⅱ</text>
<rect x="19.6" y="595.6" width="214.8" height="63" fill="none" stroke="#7a7a7a" stroke-width="1.2"/>
<line x1="19.6" y1="595.6" x2="22.2" y2="595.6" stroke="#7a7a7a" stroke-width="0.9"/>
<line x1="234.4" y1="595.6" x2="231.9" y2="595.6" stroke="#7a7a7a" stroke-width="0.8"/>
<text x="18.1" y="598.8" text-anchor="end" class="t">0.5</text>
<line x1="19.6" y1="616.6" x2="22.2" y2="616.6" stroke="#7a7a7a" stroke-width="0.9"/>
<line x1="234.4" y1="616.6" x2="231.9" y2="616.6" stroke="#7a7a7a" stroke-width="0.8"/>
<text x="18.1" y="619.8" text-anchor="end" class="t">0</text>
<line x1="19.6" y1="637.6" x2="22.2" y2="637.6" stroke="#7a7a7a" stroke-width="0.9"/>
<line x1="234.4" y1="637.6" x2="231.9" y2="637.6" stroke="#7a7a7a" stroke-width="0.8"/>
<text x="18.1" y="640.8" text-anchor="end" class="t">-0.5</text>
<line x1="19.6" y1="658.6" x2="22.2" y2="658.6" stroke="#7a7a7a" stroke-width="0.9"/>
<line x1="234.4" y1="658.6" x2="231.9" y2="658.6" stroke="#7a7a7a" stroke-width="0.8"/>
<text x="18.1" y="661.8" text-anchor="end" class="t">-1</text>
<text x="17.6" y="592.2" class="t" style="font-size:8.4px">(mv)</text>
<text x="127" y="593.2" text-anchor="middle" class="t ti">Observational Data</text>
<text x="19.6" y="669" text-anchor="middle" class="t">2000</text>
<text x="234.4" y="669" text-anchor="middle" class="t">3500</text>
<rect x="19.6" y="676" width="214.8" height="71.3" fill="none" stroke="#7a7a7a" stroke-width="1.2"/>
<line x1="19.6" y1="676.94" x2="22.2" y2="676.94" stroke="#7a7a7a" stroke-width="0.9"/>
<line x1="234.4" y1="676.94" x2="231.9" y2="676.94" stroke="#7a7a7a" stroke-width="0.8"/>
<text x="18.1" y="680.14" text-anchor="end" class="t">1.5</text>
<line x1="19.6" y1="700.39" x2="22.2" y2="700.39" stroke="#7a7a7a" stroke-width="0.9"/>
<line x1="234.4" y1="700.39" x2="231.9" y2="700.39" stroke="#7a7a7a" stroke-width="0.8"/>
<text x="18.1" y="703.59" text-anchor="end" class="t">1</text>
<line x1="19.6" y1="723.85" x2="22.2" y2="723.85" stroke="#7a7a7a" stroke-width="0.9"/>
<line x1="234.4" y1="723.85" x2="231.9" y2="723.85" stroke="#7a7a7a" stroke-width="0.8"/>
<text x="18.1" y="727.05" text-anchor="end" class="t">0.5</text>
<line x1="19.6" y1="747.3" x2="22.2" y2="747.3" stroke="#7a7a7a" stroke-width="0.9"/>
<line x1="234.4" y1="747.3" x2="231.9" y2="747.3" stroke="#7a7a7a" stroke-width="0.8"/>
<text x="18.1" y="750.5" text-anchor="end" class="t">0</text>
<text x="17.6" y="675" class="t" style="font-size:8.4px">(mv)</text>
<text x="127" y="673.6" text-anchor="middle" class="t ti">Predicted Data</text>
<text x="19.6" y="757.7" text-anchor="middle" class="t">2000</text>
<text x="234.4" y="757.7" text-anchor="middle" class="t">3500</text>
<polyline points="19.6,633.55 22.42,632.8 24.41,636.04 26.15,639.78 27.4,634.79 28.64,623.59 29.89,614.37 30.88,629.81 31.63,652.23 32.88,644.76 34.87,643.51 36.74,644.56 38.61,644.26 40.47,643.82 42.34,643.51 44.33,637.29 46.08,635.29 48.57,638.53 50.44,639.46 52.3,639.78 54.17,640.73 56.04,641.02 58.53,637.29 61.02,641.02 63.51,639.78 65.26,622.34 66.75,609.39 67.75,629.81 68.49,654.72 70.24,646 71.86,644.73 73.47,644.26 77.21,647.25 79.7,648.49 82.19,642.27 84.06,641.05 85.93,641.02 87.8,640.54 89.66,639.78 93.4,636.04 95.39,633.55 97.14,642.27 99.63,627.32 101.62,603.66 102.62,624.83 103.36,645.26 104.61,644.26 106.27,643.9 107.93,644.43 109.59,644.76 111.46,644.06 113.33,642.27 115.82,638.53 118.31,636.04 120.17,637.81 122.04,638.53 123.91,638 125.78,638.53 127.65,636.7 129.51,636.04 132,639.78 132.49,641.02 134.98,622.34 136.97,596.94 137.97,629.81 138.72,650.98 139.96,643.51 142.45,644.26 144.32,644.37 146.19,645.26 148.68,641.02 151.17,637.78 153.04,639.24 154.91,639.78 156.77,639.73 158.64,641.02 161.13,638.53 163.62,636.04 164.87,642.27 167.36,641.02 169.35,624.83 171.1,602.42 171.84,629.81 172.84,652.23 174.33,646 177.32,645.26 179.81,646.75 183.55,643.51 186.79,638.53 189.78,641.02 191.44,641.05 193.1,641.3 194.76,642.27 196.63,641.12 198.49,641.02 199.74,624.83 201.73,604.91 202.73,629.81 203.47,649.74 204.72,642.27 207.21,641.77 209.08,640.8 210.95,639.78 214.68,636.04 217.17,638.53 218.83,638.5 220.49,639.23 222.15,639.78 223.81,640.52 225.48,640.92 227.14,641.02 229,639.66 230.87,638.53 233.36,636.04 234.4,638.53" fill="none" stroke="#3089c9" stroke-width="1.3" stroke-linejoin="round" stroke-linecap="round"/>
<polyline points="19.6,739.4 22.42,738.9 24.91,738.16 27.4,734.42 29.39,721.97 30.39,719.48 31.88,699.05 33.13,712 34.87,726.95 36.86,736.91 39.85,739.4 41.51,739.08 43.17,740.14 44.83,739.9 46.49,740.52 48.15,740.55 49.81,741.39 51.47,741.9 53.13,741.84 54.79,741.89 56.45,741.46 58.12,740.37 59.78,739.4 61.64,739.42 63.51,738.9 65.26,719.48 67.75,689.09 69.74,704.53 71.73,724.46 73.47,735.67 77.21,739.4 79.08,739.73 80.95,739.22 82.81,738.92 84.68,739.4 86.55,739.76 88.42,738.69 90.29,739.1 92.15,738.9 94.02,739.24 95.89,738.41 98.38,734.42 100.12,719.48 102.86,685.85 104.61,704.53 107.1,726.95 109.59,735.67 111.25,736.73 112.91,737.87 114.57,739.4 116.44,739.26 118.31,739.04 120.17,739.7 122.04,739.4 123.91,739.16 125.78,738.89 127.65,739.52 129.51,739.4 130,739.4 131.87,738.86 133.74,738.9 135.48,719.48 137.47,684.61 138.72,677.14 139.96,692.08 141.21,719.48 143.7,735.67 145.57,736.53 147.43,738.16 149.3,737.89 151.17,739.19 153.04,738.94 154.91,739.4 156.77,739.52 158.64,739.38 160.51,739.85 162.38,739.4 164.04,738.88 165.7,739.56 167.36,739.4 169.35,724.46 171.1,699.55 172.34,683.36 173.59,709.51 175.33,729.44 177.32,736.91 179.19,737.62 181.06,737.27 182.93,737.77 184.79,738.16 186.66,738.27 188.53,738.57 190.4,739.63 192.27,739.4 193.93,738.91 195.59,739.36 197.25,738.9 199.74,724.46 200.98,709.51 202.73,692.08 204.22,712 205.97,729.44 207.71,736.91 209.45,736.86 211.2,738.25 212.94,737.9 214.68,738.9 216.55,739.38 218.42,738.63 220.29,738.94 222.15,739.4 223.81,739.53 225.48,739.97 227.14,740.65 228.8,741.39 230.46,741.48 232.12,741.89 234.4,740.65" fill="none" stroke="#3089c9" stroke-width="1.3" stroke-linejoin="round" stroke-linecap="round"/>
<ellipse cx="46.7" cy="640.8" rx="15.6" ry="6.5" fill="none" stroke="#cf88ee" stroke-width="1.15"/>
<ellipse cx="82.6" cy="642.3" rx="13.3" ry="10" fill="none" stroke="#cf88ee" stroke-width="1.15"/>
<ellipse cx="120.4" cy="640.2" rx="12.8" ry="8.3" fill="none" stroke="#cf88ee" stroke-width="1.15"/>
<ellipse cx="152.8" cy="640.3" rx="11.6" ry="7.5" fill="none" stroke="#cf88ee" stroke-width="1.15"/>
<ellipse cx="186.3" cy="642.3" rx="11.5" ry="6.2" fill="none" stroke="#cf88ee" stroke-width="1.15"/>
<ellipse cx="220" cy="640" rx="15.8" ry="7.7" fill="none" stroke="#cf88ee" stroke-width="1.15"/>
<ellipse cx="49.6" cy="740.4" rx="12.2" ry="4" fill="none" stroke="#cf88ee" stroke-width="1.15"/>
<ellipse cx="84.7" cy="740.4" rx="10.5" ry="3.5" fill="none" stroke="#cf88ee" stroke-width="1.15"/>
<ellipse cx="121.4" cy="740.7" rx="10.6" ry="3.7" fill="none" stroke="#cf88ee" stroke-width="1.15"/>
<ellipse cx="155.5" cy="740" rx="11.8" ry="3.1" fill="none" stroke="#cf88ee" stroke-width="1.15"/>
<ellipse cx="187.5" cy="739.4" rx="10.2" ry="3.7" fill="none" stroke="#cf88ee" stroke-width="1.15"/>
<ellipse cx="221.2" cy="740" rx="13.4" ry="5.6" fill="none" stroke="#cf88ee" stroke-width="1.15"/>
<rect x="26.2" y="612.4" width="10.4" height="128.7" fill="none" stroke="#f8444f" stroke-width="1"/>
<rect x="62.3" y="607.9" width="11.2" height="134.5" fill="none" stroke="#f8444f" stroke-width="1"/>
<rect x="95.1" y="601.9" width="11.5" height="140" fill="none" stroke="#f8444f" stroke-width="1"/>
<rect x="132" y="595.4" width="9.7" height="146" fill="none" stroke="#f8444f" stroke-width="1"/>
<rect x="166.6" y="599.9" width="9" height="139.5" fill="none" stroke="#f8444f" stroke-width="1"/>
<rect x="197.2" y="603.9" width="10.5" height="139.2" fill="none" stroke="#f8444f" stroke-width="1"/>
<text x="127" y="753.5" text-anchor="middle" class="b">(g)</text>
<text x="108.9" y="765.6" class="b">223-ML</text>
<text x="138.5" y="765.6" class="r">Ⅱ</text>
<rect x="317.8" y="595.6" width="214.5" height="63" fill="none" stroke="#7a7a7a" stroke-width="1.2"/>
<line x1="317.8" y1="609.91" x2="320.4" y2="609.91" stroke="#7a7a7a" stroke-width="0.9"/>
<line x1="532.3" y1="609.91" x2="529.8" y2="609.91" stroke="#7a7a7a" stroke-width="0.8"/>
<text x="316.3" y="613.11" text-anchor="end" class="t">1</text>
<line x1="317.8" y1="627.1" x2="320.4" y2="627.1" stroke="#7a7a7a" stroke-width="0.9"/>
<line x1="532.3" y1="627.1" x2="529.8" y2="627.1" stroke="#7a7a7a" stroke-width="0.8"/>
<text x="316.3" y="630.3" text-anchor="end" class="t">0.5</text>
<line x1="317.8" y1="644.29" x2="320.4" y2="644.29" stroke="#7a7a7a" stroke-width="0.9"/>
<line x1="532.3" y1="644.29" x2="529.8" y2="644.29" stroke="#7a7a7a" stroke-width="0.8"/>
<text x="316.3" y="647.49" text-anchor="end" class="t">0</text>
<text x="315.8" y="592.2" class="t" style="font-size:8.4px">(mv)</text>
<text x="425.05" y="593.2" text-anchor="middle" class="t ti">Observational Data</text>
<text x="317.8" y="669" text-anchor="middle" class="t">2000</text>
<text x="532.3" y="669" text-anchor="middle" class="t">3500</text>
<rect x="317.8" y="676" width="214.5" height="71.3" fill="none" stroke="#7a7a7a" stroke-width="1.2"/>
<line x1="317.8" y1="682.78" x2="320.4" y2="682.78" stroke="#7a7a7a" stroke-width="0.9"/>
<line x1="532.3" y1="682.78" x2="529.8" y2="682.78" stroke="#7a7a7a" stroke-width="0.8"/>
<text x="316.3" y="685.98" text-anchor="end" class="t">2</text>
<line x1="317.8" y1="715.04" x2="320.4" y2="715.04" stroke="#7a7a7a" stroke-width="0.9"/>
<line x1="532.3" y1="715.04" x2="529.8" y2="715.04" stroke="#7a7a7a" stroke-width="0.8"/>
<text x="316.3" y="718.24" text-anchor="end" class="t">1</text>
<line x1="317.8" y1="747.3" x2="320.4" y2="747.3" stroke="#7a7a7a" stroke-width="0.9"/>
<line x1="532.3" y1="747.3" x2="529.8" y2="747.3" stroke="#7a7a7a" stroke-width="0.8"/>
<text x="316.3" y="750.5" text-anchor="end" class="t">0</text>
<text x="315.8" y="675" class="t" style="font-size:8.4px">(mv)</text>
<text x="425.05" y="673.6" text-anchor="middle" class="t ti">Predicted Data</text>
<text x="317.8" y="757.7" text-anchor="middle" class="t">2000</text>
<text x="532.3" y="757.7" text-anchor="middle" class="t">3500</text>
<polyline points="317.9,642.27 318.64,597.93 319.89,629.81 320.39,648.49 321.88,653.47 323.62,655.97 325.49,655.36 327.36,653.47 329.85,650.98 333.59,646 336.08,649.74 338.57,652.23 341.06,649.74 342.93,650.88 344.79,650.98 347.78,649.74 349.78,647.25 351.02,595.44 352.27,642.27 353.51,652.23 355.26,655.97 356.87,655.04 358.49,653.47 362.23,649.74 364.72,652.23 366.38,652.26 368.04,652.82 369.7,653.47 371.57,653.59 373.44,653.53 375.31,652.24 377.17,652.73 379.04,652.45 380.91,653.65 382.78,652.75 384.65,653.47 386.31,653.44 387.97,652.74 389.63,652.73 391.49,652.68 393.36,652.23 395.85,649.74 397.6,597.43 399.09,629.81 400.09,652.23 402.08,654.72 403.95,654.6 405.82,653.47 409.55,649.74 413.29,644.76 415.78,649.74 418.27,653.47 420.14,652.34 422,650.98 424.21,650.98 426.7,654.72 427.94,629.81 429.19,597.93 430.43,629.81 431.68,652.23 434.17,654.72 436.04,653.94 437.91,653.47 439.77,651.98 441.64,650.98 444.13,647.75 446.62,652.23 448.49,653.02 450.36,653.47 452.44,653.24 454.51,652.52 456.59,652.23 459.08,649.74 461.57,642.27 462.81,600.42 464.06,629.81 465.3,653.47 467.79,654.72 469.45,653.84 471.12,653.11 472.78,652.23 476.51,647.75 479,652.23 481.08,652.06 483.15,652.11 485.23,652.73 486.89,653.07 488.55,652.67 490.21,653.47 492.7,649.74 495.19,602.42 496.44,629.81 497.68,653.47 500.17,654.72 502.04,653.61 503.91,652.23 507.65,649.24 511.38,652.23 513.04,653.07 514.7,653.52 516.36,653.47 517.98,651.88 519.6,650.98 522.59,653.47 524.46,652.73 526.33,652.23 528.82,654.22 530.43,655.06 532.05,654.72" fill="none" stroke="#3089c9" stroke-width="1.3" stroke-linejoin="round" stroke-linecap="round"/>
<polyline points="317.8,699.55 318.64,684.61 319.89,680.87 321.13,692.08 322.38,716.99 324.87,731.93 327.36,738.16 329.85,739.4 331.51,739.69 333.17,739.74 334.83,740.65 336.49,740.33 338.15,739.38 339.81,739.4 341.47,739.55 343.13,739.53 344.79,739.9 346.66,739.89 348.53,739.4 350.27,724.46 352.27,675.89 353.76,692.08 355.26,719.48 357.25,734.42 359.74,739.4 361.4,739.66 363.06,741.29 364.72,741.39 366.5,740.95 368.28,741.02 370.06,741.82 371.84,742.26 373.62,742.18 375.39,742.21 377.17,741.89 378.95,741.4 380.73,741.39 382.51,741.43 384.29,741.29 386.07,741.14 387.85,741.23 389.63,741.39 391.87,740.87 394.11,740.65 395.85,729.44 397.6,699.55 399.09,685.85 400.34,704.53 402.08,724.46 404.07,734.42 407.06,736.41 408.72,736.37 410.38,737.11 412.04,736.91 413.91,737.44 415.78,736.72 417.65,737.31 419.51,737.41 420.47,739.4 422.13,739.26 423.79,738.01 425.45,738.16 427.94,729.44 429.19,704.53 430.93,680.87 432.43,704.53 434.17,724.46 436.66,735.67 440.4,740.65 442.06,741.6 443.72,741.56 445.38,741.89 447.04,741.42 448.7,740.95 450.36,740.65 452.02,741.55 453.68,741.51 455.34,741.89 457.21,740.57 459.08,739.4 461.57,716.99 464.06,680.87 465.3,704.53 467.3,726.95 469.79,736.91 474.02,740.65 476.1,741.44 478.17,740.77 480.25,741.39 482.12,741.17 483.98,741.53 485.85,741.24 487.72,740.65 489.38,740.15 491.04,739.41 492.7,738.16 494.69,716.99 496.44,682.12 497.68,699.55 499.67,724.46 502.17,736.91 506.4,740.65 508.48,740.64 510.55,741.69 512.63,741.89 514.49,741.59 516.36,741.87 518.23,741.53 520.1,740.65 522.17,740.77 524.25,741.52 526.33,741.39 528.23,741.4 530.14,741.62 532.05,741.89" fill="none" stroke="#3089c9" stroke-width="1.3" stroke-linejoin="round" stroke-linecap="round"/>
<ellipse cx="333.6" cy="651.9" rx="15" ry="6.6" fill="none" stroke="#cf88ee" stroke-width="1.15"/>
<ellipse cx="374.1" cy="651.8" rx="20.6" ry="4.1" fill="none" stroke="#cf88ee" stroke-width="1.15"/>
<ellipse cx="414.1" cy="650.6" rx="13.3" ry="7.1" fill="none" stroke="#cf88ee" stroke-width="1.15"/>
<ellipse cx="446" cy="652.5" rx="13.1" ry="5.2" fill="none" stroke="#cf88ee" stroke-width="1.15"/>
<ellipse cx="479" cy="652.5" rx="13.7" ry="5.2" fill="none" stroke="#cf88ee" stroke-width="1.15"/>
<ellipse cx="515.7" cy="652.8" rx="16.8" ry="5.6" fill="none" stroke="#cf88ee" stroke-width="1.15"/>
<ellipse cx="337.7" cy="741.3" rx="10.8" ry="3.1" fill="none" stroke="#cf88ee" stroke-width="1.15"/>
<ellipse cx="376.3" cy="741.5" rx="17.8" ry="3.4" fill="none" stroke="#cf88ee" stroke-width="1.15"/>
<ellipse cx="415" cy="739.4" rx="10.5" ry="3.7" fill="none" stroke="#cf88ee" stroke-width="1.15"/>
<ellipse cx="447.2" cy="740.9" rx="10.5" ry="3.5" fill="none" stroke="#cf88ee" stroke-width="1.15"/>
<ellipse cx="481" cy="740.6" rx="11.2" ry="4.2" fill="none" stroke="#cf88ee" stroke-width="1.15"/>
<ellipse cx="516.7" cy="741" rx="15.3" ry="4.6" fill="none" stroke="#cf88ee" stroke-width="1.15"/>
<rect x="348.5" y="597.9" width="8.7" height="143.5" fill="none" stroke="#f8444f" stroke-width="1"/>
<rect x="394.6" y="596.9" width="10" height="144.5" fill="none" stroke="#f8444f" stroke-width="1"/>
<rect x="426.7" y="597.4" width="10" height="140" fill="none" stroke="#f8444f" stroke-width="1"/>
<rect x="458.3" y="600.4" width="9.5" height="138.5" fill="none" stroke="#f8444f" stroke-width="1"/>
<rect x="490.2" y="601.9" width="8.2" height="137" fill="none" stroke="#f8444f" stroke-width="1"/>
<text x="425.05" y="753.5" text-anchor="middle" class="b">(h)</text>
<text x="406.1" y="765.6" class="b">221-ML</text>
<text x="435.7" y="765.6" class="r">Ⅱ</text>
<rect x="19.6" y="787.5" width="214.8" height="63" fill="none" stroke="#7a7a7a" stroke-width="1.2"/>
<line x1="19.6" y1="787.5" x2="22.2" y2="787.5" stroke="#7a7a7a" stroke-width="0.9"/>
<line x1="234.4" y1="787.5" x2="231.9" y2="787.5" stroke="#7a7a7a" stroke-width="0.8"/>
<text x="18.1" y="790.7" text-anchor="end" class="t">2</text>
<line x1="19.6" y1="819" x2="22.2" y2="819" stroke="#7a7a7a" stroke-width="0.9"/>
<line x1="234.4" y1="819" x2="231.9" y2="819" stroke="#7a7a7a" stroke-width="0.8"/>
<text x="18.1" y="822.2" text-anchor="end" class="t">0</text>
<line x1="19.6" y1="850.5" x2="22.2" y2="850.5" stroke="#7a7a7a" stroke-width="0.9"/>
<line x1="234.4" y1="850.5" x2="231.9" y2="850.5" stroke="#7a7a7a" stroke-width="0.8"/>
<text x="18.1" y="853.7" text-anchor="end" class="t">-2</text>
<text x="17.6" y="784.1" class="t" style="font-size:8.4px">(mv)</text>
<text x="127" y="785.1" text-anchor="middle" class="t ti">Observational Data</text>
<text x="19.6" y="860.9" text-anchor="middle" class="t">2000</text>
<text x="234.4" y="860.9" text-anchor="middle" class="t">3500</text>
<rect x="19.6" y="867.9" width="214.8" height="71.3" fill="none" stroke="#7a7a7a" stroke-width="1.2"/>
<line x1="19.6" y1="867.9" x2="22.2" y2="867.9" stroke="#7a7a7a" stroke-width="0.9"/>
<line x1="234.4" y1="867.9" x2="231.9" y2="867.9" stroke="#7a7a7a" stroke-width="0.8"/>
<text x="18.1" y="871.1" text-anchor="end" class="t">4</text>
<line x1="19.6" y1="903.55" x2="22.2" y2="903.55" stroke="#7a7a7a" stroke-width="0.9"/>
<line x1="234.4" y1="903.55" x2="231.9" y2="903.55" stroke="#7a7a7a" stroke-width="0.8"/>
<text x="18.1" y="906.75" text-anchor="end" class="t">2</text>
<line x1="19.6" y1="939.2" x2="22.2" y2="939.2" stroke="#7a7a7a" stroke-width="0.9"/>
<line x1="234.4" y1="939.2" x2="231.9" y2="939.2" stroke="#7a7a7a" stroke-width="0.8"/>
<text x="18.1" y="942.4" text-anchor="end" class="t">0</text>
<text x="17.6" y="866.9" class="t" style="font-size:8.4px">(mv)</text>
<text x="127" y="865.5" text-anchor="middle" class="t ti">Predicted Data</text>
<text x="19.6" y="949.6" text-anchor="middle" class="t">2000</text>
<text x="234.4" y="949.6" text-anchor="middle" class="t">3500</text>
<polyline points="19.6,830.53 22.42,829.78 24.08,829.98 25.74,828.91 27.4,828.79 29.27,827.95 31.13,826.3 33.62,828.04 35.49,829.05 37.36,828.79 39.02,828.28 40.68,828.66 42.34,828.04 44,828.22 45.66,828.4 47.32,829.29 48.98,829.24 50.64,829.97 52.3,829.78 54.17,829.04 56.04,829.29 57.29,823.06 58.78,796.91 59.78,829.29 60.27,845.47 61.77,834.27 63.51,829.78 65.59,829.84 67.66,829.24 69.74,829.29 71.4,828.41 73.06,828.36 74.72,828.04 76.96,827.01 79.2,826.3 82.19,828.04 84.06,827.98 85.93,828.57 87.8,828.63 89.66,828.04 91.53,827.97 93.4,829.35 95.27,829.13 97.14,829.29 99,830.18 100.87,829.78 102.62,828.04 104.61,795.66 105.35,826.79 105.85,844.23 107.1,833.02 109.59,829.78 111.25,829.65 112.91,828.66 114.57,828.04 116.65,826.45 118.72,826.15 120.8,824.3 124.53,828.04 126.4,828.93 128.27,828.59 130.14,828.06 132,828.79 132.49,829.29 134.15,829.74 135.81,829.66 137.47,829.29 139.55,829.98 141.62,830.28 143.7,829.78 146.19,828.04 147.43,821.81 149.18,794.91 149.93,829.29 150.42,841.74 151.92,831.78 153.66,830.53 155.53,830.32 157.4,828.79 159.27,828.12 161.13,826.79 162.75,825.4 164.37,824.3 166.11,828.04 167.98,827.71 169.85,827.29 171.51,827.13 173.17,827.33 174.83,826.79 176.49,827.64 178.15,828.58 179.81,828.79 181.68,829.06 183.55,829.41 185.42,830.18 187.29,829.78 189.15,829.32 191.02,828.04 192.27,816.83 193.51,793.92 194.26,821.81 194.76,842.98 196,831.78 198.49,830.53 200.36,830.51 202.23,829.29 204.1,828.57 205.97,827.29 207.83,825.52 209.7,824.8 212.19,828.04 213.85,827.35 215.51,826.58 217.17,826.3 218.83,826.79 220.49,827.43 222.15,828.79 224.23,827.99 226.31,828.26 228.38,828.04 230.25,827.81 232.12,826.79 234.4,828.04" fill="none" stroke="#3089c9" stroke-width="1.3" stroke-linejoin="round" stroke-linecap="round"/>
<polyline points="19.6,921.44 20.42,928.91 22.42,933.89 24.08,934.23 25.74,934.99 27.4,935.14 29.06,935.31 30.72,935.38 32.38,935.91 34.04,935.31 35.7,936.33 37.36,935.89 39.14,935.98 40.92,935.55 42.7,936.38 44.48,935.84 46.26,936.81 48.03,936.53 49.81,936.38 51.68,936.03 53.55,936.38 55.17,936.32 56.79,935.14 58.28,921.44 59.78,871.63 61.02,884.08 62.76,911.48 64.76,926.42 67.25,933.89 69.12,933.99 70.98,935.06 72.85,934.23 74.72,935.14 76.5,934.9 78.28,935.29 80.06,934.87 81.84,934.94 83.62,934.66 85.39,935.26 87.17,935.14 88.95,935.66 90.73,935.12 92.51,935.67 94.29,935.6 96.07,935.91 97.85,936.37 99.63,935.89 102.12,935.14 104.11,908.99 105.35,870.38 107.1,886.57 109.59,916.46 112.08,931.4 115.82,934.39 117.56,934.59 119.3,934.53 121.05,934.81 122.79,935.24 124.53,935.14 126.4,935.92 128.27,936.09 130.14,935.46 132,935.89 132.49,936.38 134.15,935.9 135.81,936.92 137.47,936.38 139.55,936.03 141.62,936.6 143.7,936.38 146.19,933.89 147.93,896.53 149.43,871.63 151.17,891.55 152.91,916.46 154.91,931.4 158.64,935.14 160.39,934.71 162.13,935.14 163.87,935.41 165.62,935.68 167.36,935.14 169.14,935.08 170.92,935.26 172.7,935.83 174.48,935.59 176.26,935.2 178.03,935.59 179.81,935.89 181.47,935.45 183.13,935.95 184.79,935.69 186.45,934.89 188.12,935.26 189.78,935.14 192.27,911.48 194.26,870.38 196,889.06 197.75,916.46 200.24,931.4 204.72,935.14 206.5,935.57 208.28,935.76 210.06,935.73 211.84,935.66 213.62,935.65 215.39,936.32 217.17,935.89 218.95,935.84 220.73,935.59 222.51,935.65 224.29,935.73 226.07,935.77 227.85,935.61 229.63,935.89 231.29,935.9 232.95,936.65 234.4,936.38" fill="none" stroke="#3089c9" stroke-width="1.3" stroke-linejoin="round" stroke-linecap="round"/>
<ellipse cx="36.5" cy="829" rx="17" ry="4.7" fill="none" stroke="#cf88ee" stroke-width="1.15"/>
<ellipse cx="81.3" cy="829.3" rx="19.5" ry="4.5" fill="none" stroke="#cf88ee" stroke-width="1.15"/>
<ellipse cx="124.2" cy="828.7" rx="19.6" ry="5.6" fill="none" stroke="#cf88ee" stroke-width="1.15"/>
<ellipse cx="173.3" cy="827.5" rx="16.4" ry="4.4" fill="none" stroke="#cf88ee" stroke-width="1.15"/>
<ellipse cx="218.9" cy="828.1" rx="18.7" ry="5" fill="none" stroke="#cf88ee" stroke-width="1.15"/>
<ellipse cx="38" cy="936.4" rx="15.6" ry="2.5" fill="none" stroke="#cf88ee" stroke-width="1.15"/>
<ellipse cx="84" cy="935.9" rx="16.8" ry="2.5" fill="none" stroke="#cf88ee" stroke-width="1.15"/>
<ellipse cx="128.9" cy="936" rx="15.5" ry="2.5" fill="none" stroke="#cf88ee" stroke-width="1.15"/>
<ellipse cx="174.2" cy="935.8" rx="15.6" ry="1.9" fill="none" stroke="#cf88ee" stroke-width="1.15"/>
<ellipse cx="219.7" cy="935.5" rx="15" ry="2.1" fill="none" stroke="#cf88ee" stroke-width="1.15"/>
<rect x="53.7" y="796.9" width="12.6" height="141.5" fill="none" stroke="#f8444f" stroke-width="1"/>
<rect x="100.9" y="794.4" width="11.2" height="143.2" fill="none" stroke="#f8444f" stroke-width="1"/>
<rect x="144.2" y="794.4" width="12" height="144" fill="none" stroke="#f8444f" stroke-width="1"/>
<rect x="189.8" y="789.4" width="10.7" height="144" fill="none" stroke="#f8444f" stroke-width="1"/>
<text x="127" y="945.4" text-anchor="middle" class="b">(i)</text>
<text x="108.9" y="957.5" class="b">220-ML</text>
<text x="138.5" y="957.5" class="r">Ⅱ</text>
<rect x="317.8" y="787.5" width="214.5" height="63" fill="none" stroke="#7a7a7a" stroke-width="1.2"/>
<line x1="317.8" y1="787.5" x2="320.4" y2="787.5" stroke="#7a7a7a" stroke-width="0.9"/>
<line x1="532.3" y1="787.5" x2="529.8" y2="787.5" stroke="#7a7a7a" stroke-width="0.8"/>
<text x="316.3" y="790.7" text-anchor="end" class="t">2</text>
<line x1="317.8" y1="819" x2="320.4" y2="819" stroke="#7a7a7a" stroke-width="0.9"/>
<line x1="532.3" y1="819" x2="529.8" y2="819" stroke="#7a7a7a" stroke-width="0.8"/>
<text x="316.3" y="822.2" text-anchor="end" class="t">0</text>
<line x1="317.8" y1="850.5" x2="320.4" y2="850.5" stroke="#7a7a7a" stroke-width="0.9"/>
<line x1="532.3" y1="850.5" x2="529.8" y2="850.5" stroke="#7a7a7a" stroke-width="0.8"/>
<text x="316.3" y="853.7" text-anchor="end" class="t">-2</text>
<text x="315.8" y="784.1" class="t" style="font-size:8.4px">(mv)</text>
<text x="425.05" y="785.1" text-anchor="middle" class="t ti">Observational Data</text>
<text x="317.8" y="860.9" text-anchor="middle" class="t">2000</text>
<text x="532.3" y="860.9" text-anchor="middle" class="t">3500</text>
<rect x="317.8" y="867.9" width="214.5" height="71.3" fill="none" stroke="#7a7a7a" stroke-width="1.2"/>
<line x1="317.8" y1="869.98" x2="320.4" y2="869.98" stroke="#7a7a7a" stroke-width="0.9"/>
<line x1="532.3" y1="869.98" x2="529.8" y2="869.98" stroke="#7a7a7a" stroke-width="0.8"/>
<text x="316.3" y="873.18" text-anchor="end" class="t">3</text>
<line x1="317.8" y1="893.05" x2="320.4" y2="893.05" stroke="#7a7a7a" stroke-width="0.9"/>
<line x1="532.3" y1="893.05" x2="529.8" y2="893.05" stroke="#7a7a7a" stroke-width="0.8"/>
<text x="316.3" y="896.25" text-anchor="end" class="t">2</text>
<line x1="317.8" y1="916.13" x2="320.4" y2="916.13" stroke="#7a7a7a" stroke-width="0.9"/>
<line x1="532.3" y1="916.13" x2="529.8" y2="916.13" stroke="#7a7a7a" stroke-width="0.8"/>
<text x="316.3" y="919.33" text-anchor="end" class="t">1</text>
<line x1="317.8" y1="939.2" x2="320.4" y2="939.2" stroke="#7a7a7a" stroke-width="0.9"/>
<line x1="532.3" y1="939.2" x2="529.8" y2="939.2" stroke="#7a7a7a" stroke-width="0.8"/>
<text x="316.3" y="942.4" text-anchor="end" class="t">0</text>
<text x="315.8" y="866.9" class="t" style="font-size:8.4px">(mv)</text>
<text x="425.05" y="865.5" text-anchor="middle" class="t ti">Predicted Data</text>
<text x="317.8" y="949.6" text-anchor="middle" class="t">2000</text>
<text x="532.3" y="949.6" text-anchor="middle" class="t">3500</text>
<polyline points="317.9,829.29 319.89,829.78 321.13,821.81 322.38,794.91 323.13,816.83 323.62,829.29 324.87,830.53 327.36,831.78 329.23,833.07 331.1,833.77 334.83,836.76 336.82,838.75 338.57,833.02 341.06,829.78 342.93,829.85 344.79,828.79 346.45,827.94 348.12,829.07 349.78,828.29 351.44,828.9 353.1,828 354.76,828.79 356.63,828.84 358.49,828.04 359.74,821.81 360.98,794.42 361.73,821.81 362.73,830.53 364.72,831.78 366.38,832.62 368.04,832.17 369.7,833.02 371.57,834.93 373.44,835.51 375.93,837.26 377.67,833.02 379.66,830.53 381.32,830.09 382.98,829.96 384.65,829.78 386.31,829.83 387.97,829.72 389.63,829.63 391.29,828.81 392.95,828.93 394.61,828.79 396.48,828.28 398.34,828.47 400.21,828.77 402.08,828.79 404.57,828.04 405.82,816.83 407.06,792.42 408.06,821.81 409.05,830.53 412.04,831.78 413.7,832.43 415.36,834.05 417.02,835.51 419.51,837.26 420.47,838.75 422.96,831.78 425.45,829.78 427.11,829.89 428.77,828.67 430.43,828.79 432.1,828.44 433.76,827.64 435.42,828.04 437.08,828.62 438.74,827.98 440.4,828.79 442.27,828.84 444.13,829.78 445.88,821.81 447.12,794.42 447.87,821.81 448.62,830.53 450.36,831.28 452.23,831.87 454.1,831.78 455.96,832.94 457.83,834.27 460.32,838 462.81,833.02 466.55,829.78 468.42,829.36 470.29,828.79 472.78,821.81 474.02,793.17 474.77,821.81 475.76,829.78 478.26,829.29 480.5,830.06 482.74,830.53 484.61,831.77 486.47,833.02 488.97,829.78 492.7,826.79 494.78,826.27 496.85,825.48 498.93,825.55 501,824.8 503.08,824.64 505.15,824.8 507.02,824.32 508.89,824.3 510.76,824.98 512.63,824.3 514.49,824.53 516.36,825.55 518.85,816.83 520.1,791.93 521.34,821.81 522.59,826.79 524.46,826.9 526.33,828.04 528.19,828.96 530.06,830.53 532.05,831.78" fill="none" stroke="#3089c9" stroke-width="1.3" stroke-linejoin="round" stroke-linecap="round"/>
<polyline points="317.9,936.38 319.39,921.44 321.13,896.53 322.38,867.89 323.62,884.08 324.87,899.02 326.11,911.48 327.86,923.93 329.85,931.4 332.34,933.89 334.21,933.3 336.08,933.89 338.57,930.16 341.06,933.89 342.93,934.28 344.79,935.14 346.45,935.84 348.12,936.38 349.78,936.38 351.44,936.86 353.1,936.95 354.76,936.38 356.63,935.38 358.49,935.14 359.74,911.48 360.98,891.55 362.23,869.14 363.47,884.08 364.72,911.48 366.71,928.91 369.7,932.65 372.19,933.89 373.85,932.94 375.51,932.6 377.17,931.9 379.66,935.14 381.53,935.63 383.4,935.39 385.27,936.36 387.14,936.38 388.8,936.11 390.46,936.6 392.12,936.56 393.78,936.15 395.44,936.29 397.1,936.38 399.17,936.19 401.25,935.62 403.33,935.14 405.07,911.48 407.06,867.89 409.05,889.06 410.8,911.48 413.29,926.42 415.78,932.65 417.65,933.03 419.51,933.89 422.96,929.41 425.45,933.89 427.32,934.92 429.19,934.7 431.06,935.17 432.93,935.89 434.79,935.53 436.66,936.67 438.53,936.49 440.4,936.38 442.27,936.33 444.13,935.89 446.62,908.99 448.37,869.14 449.86,889.06 451.61,911.48 453.35,928.91 456.59,932.65 458.45,932.03 460.32,931.4 462.81,930.16 465.3,933.39 466.96,933.6 468.62,933.97 470.29,935.14 472.28,911.48 474.02,869.14 475.76,891.55 477.76,916.46 480.25,931.4 482.12,932.72 483.98,933.89 485.85,934.52 487.72,934.39 489.38,934.65 491.04,933.24 492.7,933.39 494.57,933.31 496.44,933.75 498.31,934.29 500.17,935.14 501.83,935.57 503.49,935.6 505.15,935.89 506.81,935.5 508.48,935.37 510.14,935.89 511.8,936.49 513.46,936.81 515.12,936.38 517.11,926.42 518.85,896.53 520.6,871.63 522.09,891.55 523.83,916.46 525.58,931.4 527.2,932.19 528.82,933.89 530.43,934.61 532.05,936.38" fill="none" stroke="#3089c9" stroke-width="1.3" stroke-linejoin="round" stroke-linecap="round"/>
<ellipse cx="342.9" cy="833" rx="18" ry="7.5" fill="none" stroke="#cf88ee" stroke-width="1.15"/>
<ellipse cx="385.5" cy="832.3" rx="19.5" ry="7.5" fill="none" stroke="#cf88ee" stroke-width="1.15"/>
<ellipse cx="429" cy="832.4" rx="17.5" ry="8.1" fill="none" stroke="#cf88ee" stroke-width="1.15"/>
<ellipse cx="459.6" cy="832" rx="11.2" ry="7.2" fill="none" stroke="#cf88ee" stroke-width="1.15"/>
<ellipse cx="501.2" cy="829.3" rx="19" ry="9.5" fill="none" stroke="#cf88ee" stroke-width="1.15"/>
<ellipse cx="344.2" cy="932.6" rx="14.3" ry="5" fill="none" stroke="#cf88ee" stroke-width="1.15"/>
<ellipse cx="385.5" cy="933.5" rx="17.8" ry="4.1" fill="none" stroke="#cf88ee" stroke-width="1.15"/>
<ellipse cx="430" cy="933" rx="15.5" ry="4.6" fill="none" stroke="#cf88ee" stroke-width="1.15"/>
<ellipse cx="462.8" cy="933.5" rx="8.7" ry="4.1" fill="none" stroke="#cf88ee" stroke-width="1.15"/>
<ellipse cx="498.3" cy="934.5" rx="18.1" ry="3.1" fill="none" stroke="#cf88ee" stroke-width="1.15"/>
<rect x="319.4" y="794.4" width="10.5" height="143.2" fill="none" stroke="#f8444f" stroke-width="1"/>
<rect x="358" y="793.2" width="9.2" height="145.2" fill="none" stroke="#f8444f" stroke-width="1"/>
<rect x="403.3" y="790.7" width="11.2" height="143.7" fill="none" stroke="#f8444f" stroke-width="1"/>
<rect x="444.1" y="794.4" width="9.2" height="141.5" fill="none" stroke="#f8444f" stroke-width="1"/>
<rect x="471.5" y="792.4" width="8.7" height="144.5" fill="none" stroke="#f8444f" stroke-width="1"/>
<rect x="516.4" y="789.9" width="8.7" height="146.5" fill="none" stroke="#f8444f" stroke-width="1"/>
<text x="425.05" y="945.4" text-anchor="middle" class="b">(j)</text>
<text x="406.1" y="957.5" class="b">219-ML</text>
<text x="435.7" y="957.5" class="r">Ⅱ</text>
</svg>
</body></html>
